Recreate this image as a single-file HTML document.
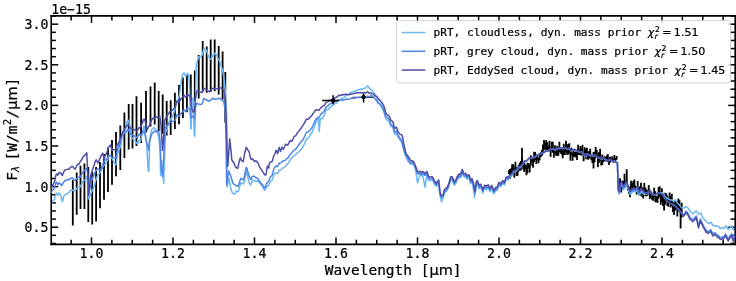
<!DOCTYPE html>
<html><head><meta charset="utf-8"><title>spectrum</title>
<style>html,body{margin:0;padding:0;background:#fff;}body{width:736px;height:281px;overflow:hidden;}svg{display:block;}svg text{stroke:#000;stroke-width:0.22px;}</style>
</head><body>
<svg width="736px" height="281px" viewBox="0 0 736 281" version="1.1">
 
 <defs>
  <style type="text/css">*{stroke-linejoin: round; stroke-linecap: butt}</style>
 </defs>
 <g id="figure_1">
  <g id="patch_1">
   <path d="M 0 281 
L 736 281 
L 736 0 
L 0 0 
z
" style="fill: #ffffff"/>
  </g>
  <g id="axes_1">
   <g id="patch_2">
    <path d="M 51.2 244.4 
L 735.2 244.4 
L 735.2 15.9 
L 51.2 15.9 
z
" style="fill: #ffffff"/>
   </g>
   <g id="line2d_1">
    <path d="M 72.8 180 
L 72.8 225.5 
" clip-path="url(#p9d8dd393e2)" style="fill: none; stroke: #000000; stroke-width: 1.8"/>
   </g>
   <g id="line2d_2">
    <path d="M 76.7 172.5 
L 76.7 214.7 
" clip-path="url(#p9d8dd393e2)" style="fill: none; stroke: #000000; stroke-width: 1.8"/>
   </g>
   <g id="line2d_3">
    <path d="M 80.5 165.7 
L 80.5 209.1 
" clip-path="url(#p9d8dd393e2)" style="fill: none; stroke: #000000; stroke-width: 1.8"/>
   </g>
   <g id="line2d_4">
    <path d="M 84.4 163.5 
L 84.4 209.1 
" clip-path="url(#p9d8dd393e2)" style="fill: none; stroke: #000000; stroke-width: 1.8"/>
   </g>
   <g id="line2d_5">
    <path d="M 88.3 167 
L 88.3 222 
" clip-path="url(#p9d8dd393e2)" style="fill: none; stroke: #000000; stroke-width: 1.8"/>
   </g>
   <g id="line2d_6">
    <path d="M 92.2 172 
L 92.2 224.5 
" clip-path="url(#p9d8dd393e2)" style="fill: none; stroke: #000000; stroke-width: 1.8"/>
   </g>
   <g id="line2d_7">
    <path d="M 96.1 167 
L 96.1 221.5 
" clip-path="url(#p9d8dd393e2)" style="fill: none; stroke: #000000; stroke-width: 1.8"/>
   </g>
   <g id="line2d_8">
    <path d="M 100 162 
L 100 208.3 
" clip-path="url(#p9d8dd393e2)" style="fill: none; stroke: #000000; stroke-width: 1.8"/>
   </g>
   <g id="line2d_9">
    <path d="M 104 154 
L 104 199.7 
" clip-path="url(#p9d8dd393e2)" style="fill: none; stroke: #000000; stroke-width: 1.8"/>
   </g>
   <g id="line2d_10">
    <path d="M 108 147.5 
L 108 192 
" clip-path="url(#p9d8dd393e2)" style="fill: none; stroke: #000000; stroke-width: 1.8"/>
   </g>
   <g id="line2d_11">
    <path d="M 112 140 
L 112 184.8 
" clip-path="url(#p9d8dd393e2)" style="fill: none; stroke: #000000; stroke-width: 1.8"/>
   </g>
   <g id="line2d_12">
    <path d="M 116 132 
L 116 176.2 
" clip-path="url(#p9d8dd393e2)" style="fill: none; stroke: #000000; stroke-width: 1.8"/>
   </g>
   <g id="line2d_13">
    <path d="M 120.3 125.4 
L 120.3 170 
" clip-path="url(#p9d8dd393e2)" style="fill: none; stroke: #000000; stroke-width: 1.8"/>
   </g>
   <g id="line2d_14">
    <path d="M 124.4 112.6 
L 124.4 158 
" clip-path="url(#p9d8dd393e2)" style="fill: none; stroke: #000000; stroke-width: 1.8"/>
   </g>
   <g id="line2d_15">
    <path d="M 128.7 104.1 
L 128.7 149.5 
" clip-path="url(#p9d8dd393e2)" style="fill: none; stroke: #000000; stroke-width: 1.8"/>
   </g>
   <g id="line2d_16">
    <path d="M 132.5 104.1 
L 132.5 148.5 
" clip-path="url(#p9d8dd393e2)" style="fill: none; stroke: #000000; stroke-width: 1.8"/>
   </g>
   <g id="line2d_17">
    <path d="M 136.5 96.3 
L 136.5 146 
" clip-path="url(#p9d8dd393e2)" style="fill: none; stroke: #000000; stroke-width: 1.8"/>
   </g>
   <g id="line2d_18">
    <path d="M 141.1 102.8 
L 141.1 143 
" clip-path="url(#p9d8dd393e2)" style="fill: none; stroke: #000000; stroke-width: 1.8"/>
   </g>
   <g id="line2d_19">
    <path d="M 146 91 
L 146 132.5 
" clip-path="url(#p9d8dd393e2)" style="fill: none; stroke: #000000; stroke-width: 1.8"/>
   </g>
   <g id="line2d_20">
    <path d="M 150.5 86.5 
L 150.5 126.5 
" clip-path="url(#p9d8dd393e2)" style="fill: none; stroke: #000000; stroke-width: 1.8"/>
   </g>
   <g id="line2d_21">
    <path d="M 154.7 82.5 
L 154.7 124.5 
" clip-path="url(#p9d8dd393e2)" style="fill: none; stroke: #000000; stroke-width: 1.8"/>
   </g>
   <g id="line2d_22">
    <path d="M 158.7 91 
L 158.7 131.3 
" clip-path="url(#p9d8dd393e2)" style="fill: none; stroke: #000000; stroke-width: 1.8"/>
   </g>
   <g id="line2d_23">
    <path d="M 162.7 94.5 
L 162.7 133.7 
" clip-path="url(#p9d8dd393e2)" style="fill: none; stroke: #000000; stroke-width: 1.8"/>
   </g>
   <g id="line2d_24">
    <path d="M 166.7 101.1 
L 166.7 135.5 
" clip-path="url(#p9d8dd393e2)" style="fill: none; stroke: #000000; stroke-width: 1.8"/>
   </g>
   <g id="line2d_25">
    <path d="M 170.7 100.3 
L 170.7 135 
" clip-path="url(#p9d8dd393e2)" style="fill: none; stroke: #000000; stroke-width: 1.8"/>
   </g>
   <g id="line2d_26">
    <path d="M 174.9 92.8 
L 174.9 129 
" clip-path="url(#p9d8dd393e2)" style="fill: none; stroke: #000000; stroke-width: 1.8"/>
   </g>
   <g id="line2d_27">
    <path d="M 179 85.1 
L 179 124.2 
" clip-path="url(#p9d8dd393e2)" style="fill: none; stroke: #000000; stroke-width: 1.8"/>
   </g>
   <g id="line2d_28">
    <path d="M 182.9 77.5 
L 182.9 118 
" clip-path="url(#p9d8dd393e2)" style="fill: none; stroke: #000000; stroke-width: 1.8"/>
   </g>
   <g id="line2d_29">
    <path d="M 186.9 74 
L 186.9 112.2 
" clip-path="url(#p9d8dd393e2)" style="fill: none; stroke: #000000; stroke-width: 1.8"/>
   </g>
   <g id="line2d_30">
    <path d="M 190.8 74.5 
L 190.8 107 
" clip-path="url(#p9d8dd393e2)" style="fill: none; stroke: #000000; stroke-width: 1.8"/>
   </g>
   <g id="line2d_31">
    <path d="M 194.8 70.5 
L 194.8 101 
" clip-path="url(#p9d8dd393e2)" style="fill: none; stroke: #000000; stroke-width: 1.8"/>
   </g>
   <g id="line2d_32">
    <path d="M 198.7 55 
L 198.7 98.4 
" clip-path="url(#p9d8dd393e2)" style="fill: none; stroke: #000000; stroke-width: 1.8"/>
   </g>
   <g id="line2d_33">
    <path d="M 202.7 41 
L 202.7 92 
" clip-path="url(#p9d8dd393e2)" style="fill: none; stroke: #000000; stroke-width: 1.8"/>
   </g>
   <g id="line2d_34">
    <path d="M 206.7 46.5 
L 206.7 92.8 
" clip-path="url(#p9d8dd393e2)" style="fill: none; stroke: #000000; stroke-width: 1.8"/>
   </g>
   <g id="line2d_35">
    <path d="M 210.7 39.5 
L 210.7 92 
" clip-path="url(#p9d8dd393e2)" style="fill: none; stroke: #000000; stroke-width: 1.8"/>
   </g>
   <g id="line2d_36">
    <path d="M 214.7 39.5 
L 214.7 91.2 
" clip-path="url(#p9d8dd393e2)" style="fill: none; stroke: #000000; stroke-width: 1.8"/>
   </g>
   <g id="line2d_37">
    <path d="M 218.7 46 
L 218.7 94.4 
" clip-path="url(#p9d8dd393e2)" style="fill: none; stroke: #000000; stroke-width: 1.8"/>
   </g>
   <g id="line2d_38">
    <path d="M 222.6 51.5 
L 222.6 99.5 
" clip-path="url(#p9d8dd393e2)" style="fill: none; stroke: #000000; stroke-width: 1.8"/>
   </g>
   <g id="line2d_39">
    <path d="M 225.3 72 
L 225.3 122.5 
" clip-path="url(#p9d8dd393e2)" style="fill: none; stroke: #000000; stroke-width: 1.8"/>
   </g>
   <g id="line2d_40">
    <path d="M 508.8 172.126631 
L 509.9 173.843945 
L 511 172.614532 
L 512.1 167.704425 
L 513.2 168.092253 
L 514.3 172.796134 
L 515.4 165.024621 
L 516.5 171.865246 
L 517.6 171.341816 
L 518.7 168.105032 
L 519.8 166.297377 
L 520.9 165.649275 
L 522 156.9 
L 523.1 166.321547 
L 524.2 166.476633 
L 525.3 166.575961 
L 526.4 170.417163 
L 527.5 167.995626 
L 528.6 165.729131 
L 529.7 168.594595 
L 530.8 160.546715 
L 531.9 159.368579 
L 533 163.067895 
L 534.1 156.92376 
L 535.2 155.928483 
L 536.3 159.329974 
L 537.4 157.847263 
L 538.5 160.59755 
L 539.6 157.082168 
L 540.7 154.741497 
L 541.8 152.99671 
L 542.9 149.361297 
L 544 145 
L 545.1 145.858022 
L 546.2 146 
L 547.3 146.80608 
L 548.4 148.540544 
L 549.5 145.623083 
L 550.6 152.710537 
L 551.7 146.039984 
L 552.8 147.161846 
L 553.9 152.863272 
L 555 149.348164 
L 556.1 152.269441 
L 557.2 150.857916 
L 558.3 152.153646 
L 559.4 146.844361 
L 560.5 151.020081 
L 561.6 150.732647 
L 562.7 154.166708 
L 563.8 149.335067 
L 564.9 151.65985 
L 566 146.204276 
L 567.1 149.566933 
L 568.2 149.321341 
L 569.3 148.030434 
L 570.4 154.959112 
L 571.5 151.133235 
L 572.6 157.08363 
L 573.7 153.855735 
L 574.8 154.352184 
L 575.9 154.610426 
L 577 154.840875 
L 578.1 149.910226 
L 579.2 152.418483 
L 580.3 150.369087 
L 581.4 151.830774 
L 582.5 149.044974 
L 583.6 156.994601 
L 584.7 150.30994 
L 585.8 154.278713 
L 586.9 151.186873 
L 588 155.845609 
L 589.1 154.966005 
L 590.2 151.442441 
L 591.3 158.111633 
L 592.4 159.778634 
L 593.5 160.25 
L 594.6 157.021426 
L 595.7 152.429898 
L 596.8 153.10059 
L 597.9 161.063386 
L 599 157.431893 
L 600.1 154.149732 
L 601.2 161.367399 
L 602.3 159.64937 
L 603.4 159.555948 
L 604.5 158.436946 
L 605.6 159.335043 
L 606.7 158.140488 
L 607.8 156.650316 
L 608.9 162.781768 
L 610 159.798982 
L 611.1 160.2309 
L 612.2 158.839632 
L 613.3 161.191268 
L 614.4 157.509056 
L 615.5 159.516643 
L 616.6 157.946487 
" clip-path="url(#p9d8dd393e2)" style="fill: none; stroke: #000000; stroke-linecap: square"/>
   </g>
   <g id="LineCollection_1">
    <path d="M 508.8 170.184605 
L 508.8 174.068656 
" clip-path="url(#p9d8dd393e2)" style="fill: none; stroke: #000000; stroke-width: 1.8"/>
    <path d="M 509.9 168.931415 
L 509.9 178.756475 
" clip-path="url(#p9d8dd393e2)" style="fill: none; stroke: #000000; stroke-width: 1.8"/>
    <path d="M 511 168.514094 
L 511 176.714969 
" clip-path="url(#p9d8dd393e2)" style="fill: none; stroke: #000000; stroke-width: 1.8"/>
    <path d="M 512.1 164.272379 
L 512.1 171.136471 
" clip-path="url(#p9d8dd393e2)" style="fill: none; stroke: #000000; stroke-width: 1.8"/>
    <path d="M 513.2 164.342714 
L 513.2 171.841793 
" clip-path="url(#p9d8dd393e2)" style="fill: none; stroke: #000000; stroke-width: 1.8"/>
    <path d="M 514.3 167.942445 
L 514.3 177.649823 
" clip-path="url(#p9d8dd393e2)" style="fill: none; stroke: #000000; stroke-width: 1.8"/>
    <path d="M 515.4 161.779214 
L 515.4 168.270028 
" clip-path="url(#p9d8dd393e2)" style="fill: none; stroke: #000000; stroke-width: 1.8"/>
    <path d="M 516.5 167.826635 
L 516.5 175.903857 
" clip-path="url(#p9d8dd393e2)" style="fill: none; stroke: #000000; stroke-width: 1.8"/>
    <path d="M 517.6 166.980443 
L 517.6 175.703189 
" clip-path="url(#p9d8dd393e2)" style="fill: none; stroke: #000000; stroke-width: 1.8"/>
    <path d="M 518.7 164.755148 
L 518.7 171.454915 
" clip-path="url(#p9d8dd393e2)" style="fill: none; stroke: #000000; stroke-width: 1.8"/>
    <path d="M 519.8 162.401138 
L 519.8 170.193615 
" clip-path="url(#p9d8dd393e2)" style="fill: none; stroke: #000000; stroke-width: 1.8"/>
    <path d="M 520.9 160.894547 
L 520.9 170.404003 
" clip-path="url(#p9d8dd393e2)" style="fill: none; stroke: #000000; stroke-width: 1.8"/>
    <path d="M 522 147.8 
L 522 166 
" clip-path="url(#p9d8dd393e2)" style="fill: none; stroke: #000000; stroke-width: 1.8"/>
    <path d="M 523.1 163.466233 
L 523.1 169.176861 
" clip-path="url(#p9d8dd393e2)" style="fill: none; stroke: #000000; stroke-width: 1.8"/>
    <path d="M 524.2 160.923007 
L 524.2 172.030259 
" clip-path="url(#p9d8dd393e2)" style="fill: none; stroke: #000000; stroke-width: 1.8"/>
    <path d="M 525.3 164.178353 
L 525.3 168.97357 
" clip-path="url(#p9d8dd393e2)" style="fill: none; stroke: #000000; stroke-width: 1.8"/>
    <path d="M 526.4 165.477039 
L 526.4 175.357286 
" clip-path="url(#p9d8dd393e2)" style="fill: none; stroke: #000000; stroke-width: 1.8"/>
    <path d="M 527.5 162.855519 
L 527.5 173.135733 
" clip-path="url(#p9d8dd393e2)" style="fill: none; stroke: #000000; stroke-width: 1.8"/>
    <path d="M 528.6 162.876483 
L 528.6 168.581779 
" clip-path="url(#p9d8dd393e2)" style="fill: none; stroke: #000000; stroke-width: 1.8"/>
    <path d="M 529.7 164.77306 
L 529.7 172.416131 
" clip-path="url(#p9d8dd393e2)" style="fill: none; stroke: #000000; stroke-width: 1.8"/>
    <path d="M 530.8 155.361941 
L 530.8 165.731489 
" clip-path="url(#p9d8dd393e2)" style="fill: none; stroke: #000000; stroke-width: 1.8"/>
    <path d="M 531.9 156.920058 
L 531.9 161.817101 
" clip-path="url(#p9d8dd393e2)" style="fill: none; stroke: #000000; stroke-width: 1.8"/>
    <path d="M 533 158.505577 
L 533 167.630213 
" clip-path="url(#p9d8dd393e2)" style="fill: none; stroke: #000000; stroke-width: 1.8"/>
    <path d="M 534.1 151.802191 
L 534.1 162.045329 
" clip-path="url(#p9d8dd393e2)" style="fill: none; stroke: #000000; stroke-width: 1.8"/>
    <path d="M 535.2 151.89646 
L 535.2 159.960507 
" clip-path="url(#p9d8dd393e2)" style="fill: none; stroke: #000000; stroke-width: 1.8"/>
    <path d="M 536.3 154.742066 
L 536.3 163.917882 
" clip-path="url(#p9d8dd393e2)" style="fill: none; stroke: #000000; stroke-width: 1.8"/>
    <path d="M 537.4 154.96485 
L 537.4 160.729675 
" clip-path="url(#p9d8dd393e2)" style="fill: none; stroke: #000000; stroke-width: 1.8"/>
    <path d="M 538.5 157.897494 
L 538.5 163.297606 
" clip-path="url(#p9d8dd393e2)" style="fill: none; stroke: #000000; stroke-width: 1.8"/>
    <path d="M 539.6 154.000517 
L 539.6 160.163819 
" clip-path="url(#p9d8dd393e2)" style="fill: none; stroke: #000000; stroke-width: 1.8"/>
    <path d="M 540.7 152.216546 
L 540.7 157.266447 
" clip-path="url(#p9d8dd393e2)" style="fill: none; stroke: #000000; stroke-width: 1.8"/>
    <path d="M 541.8 149.974848 
L 541.8 156.018573 
" clip-path="url(#p9d8dd393e2)" style="fill: none; stroke: #000000; stroke-width: 1.8"/>
    <path d="M 542.9 144.571189 
L 542.9 154.151404 
" clip-path="url(#p9d8dd393e2)" style="fill: none; stroke: #000000; stroke-width: 1.8"/>
    <path d="M 544 140 
L 544 150 
" clip-path="url(#p9d8dd393e2)" style="fill: none; stroke: #000000; stroke-width: 1.8"/>
    <path d="M 545.1 142.806462 
L 545.1 148.909582 
" clip-path="url(#p9d8dd393e2)" style="fill: none; stroke: #000000; stroke-width: 1.8"/>
    <path d="M 546.2 140 
L 546.2 152 
" clip-path="url(#p9d8dd393e2)" style="fill: none; stroke: #000000; stroke-width: 1.8"/>
    <path d="M 547.3 142.177065 
L 547.3 151.435095 
" clip-path="url(#p9d8dd393e2)" style="fill: none; stroke: #000000; stroke-width: 1.8"/>
    <path d="M 548.4 145.409251 
L 548.4 151.671836 
" clip-path="url(#p9d8dd393e2)" style="fill: none; stroke: #000000; stroke-width: 1.8"/>
    <path d="M 549.5 140.707929 
L 549.5 150.538238 
" clip-path="url(#p9d8dd393e2)" style="fill: none; stroke: #000000; stroke-width: 1.8"/>
    <path d="M 550.6 148.55345 
L 550.6 156.867625 
" clip-path="url(#p9d8dd393e2)" style="fill: none; stroke: #000000; stroke-width: 1.8"/>
    <path d="M 551.7 141.725849 
L 551.7 150.35412 
" clip-path="url(#p9d8dd393e2)" style="fill: none; stroke: #000000; stroke-width: 1.8"/>
    <path d="M 552.8 141.690182 
L 552.8 152.633509 
" clip-path="url(#p9d8dd393e2)" style="fill: none; stroke: #000000; stroke-width: 1.8"/>
    <path d="M 553.9 148.070975 
L 553.9 157.655568 
" clip-path="url(#p9d8dd393e2)" style="fill: none; stroke: #000000; stroke-width: 1.8"/>
    <path d="M 555 145.229585 
L 555 153.466744 
" clip-path="url(#p9d8dd393e2)" style="fill: none; stroke: #000000; stroke-width: 1.8"/>
    <path d="M 556.1 148.753731 
L 556.1 155.78515 
" clip-path="url(#p9d8dd393e2)" style="fill: none; stroke: #000000; stroke-width: 1.8"/>
    <path d="M 557.2 145.924501 
L 557.2 155.791332 
" clip-path="url(#p9d8dd393e2)" style="fill: none; stroke: #000000; stroke-width: 1.8"/>
    <path d="M 558.3 148.672526 
L 558.3 155.634766 
" clip-path="url(#p9d8dd393e2)" style="fill: none; stroke: #000000; stroke-width: 1.8"/>
    <path d="M 559.4 141.753764 
L 559.4 151.934958 
" clip-path="url(#p9d8dd393e2)" style="fill: none; stroke: #000000; stroke-width: 1.8"/>
    <path d="M 560.5 148.574468 
L 560.5 153.465694 
" clip-path="url(#p9d8dd393e2)" style="fill: none; stroke: #000000; stroke-width: 1.8"/>
    <path d="M 561.6 147.034652 
L 561.6 154.430643 
" clip-path="url(#p9d8dd393e2)" style="fill: none; stroke: #000000; stroke-width: 1.8"/>
    <path d="M 562.7 150.064609 
L 562.7 158.268808 
" clip-path="url(#p9d8dd393e2)" style="fill: none; stroke: #000000; stroke-width: 1.8"/>
    <path d="M 563.8 143.631311 
L 563.8 155.038822 
" clip-path="url(#p9d8dd393e2)" style="fill: none; stroke: #000000; stroke-width: 1.8"/>
    <path d="M 564.9 148.287607 
L 564.9 155.032093 
" clip-path="url(#p9d8dd393e2)" style="fill: none; stroke: #000000; stroke-width: 1.8"/>
    <path d="M 566 140.726596 
L 566 151.681955 
" clip-path="url(#p9d8dd393e2)" style="fill: none; stroke: #000000; stroke-width: 1.8"/>
    <path d="M 567.1 144.456783 
L 567.1 154.677082 
" clip-path="url(#p9d8dd393e2)" style="fill: none; stroke: #000000; stroke-width: 1.8"/>
    <path d="M 568.2 144.17732 
L 568.2 154.465363 
" clip-path="url(#p9d8dd393e2)" style="fill: none; stroke: #000000; stroke-width: 1.8"/>
    <path d="M 569.3 143.313599 
L 569.3 152.747269 
" clip-path="url(#p9d8dd393e2)" style="fill: none; stroke: #000000; stroke-width: 1.8"/>
    <path d="M 570.4 149.167154 
L 570.4 160.75107 
" clip-path="url(#p9d8dd393e2)" style="fill: none; stroke: #000000; stroke-width: 1.8"/>
    <path d="M 571.5 147.64019 
L 571.5 154.62628 
" clip-path="url(#p9d8dd393e2)" style="fill: none; stroke: #000000; stroke-width: 1.8"/>
    <path d="M 572.6 153.459321 
L 572.6 160.70794 
" clip-path="url(#p9d8dd393e2)" style="fill: none; stroke: #000000; stroke-width: 1.8"/>
    <path d="M 573.7 150.950617 
L 573.7 156.760854 
" clip-path="url(#p9d8dd393e2)" style="fill: none; stroke: #000000; stroke-width: 1.8"/>
    <path d="M 574.8 151.998727 
L 574.8 156.705641 
" clip-path="url(#p9d8dd393e2)" style="fill: none; stroke: #000000; stroke-width: 1.8"/>
    <path d="M 575.9 151.721071 
L 575.9 157.49978 
" clip-path="url(#p9d8dd393e2)" style="fill: none; stroke: #000000; stroke-width: 1.8"/>
    <path d="M 577 149.63908 
L 577 160.042671 
" clip-path="url(#p9d8dd393e2)" style="fill: none; stroke: #000000; stroke-width: 1.8"/>
    <path d="M 578.1 144.866173 
L 578.1 154.954279 
" clip-path="url(#p9d8dd393e2)" style="fill: none; stroke: #000000; stroke-width: 1.8"/>
    <path d="M 579.2 149.713172 
L 579.2 155.123794 
" clip-path="url(#p9d8dd393e2)" style="fill: none; stroke: #000000; stroke-width: 1.8"/>
    <path d="M 580.3 145.955795 
L 580.3 154.782379 
" clip-path="url(#p9d8dd393e2)" style="fill: none; stroke: #000000; stroke-width: 1.8"/>
    <path d="M 581.4 147.835656 
L 581.4 155.825892 
" clip-path="url(#p9d8dd393e2)" style="fill: none; stroke: #000000; stroke-width: 1.8"/>
    <path d="M 582.5 144.772514 
L 582.5 153.317434 
" clip-path="url(#p9d8dd393e2)" style="fill: none; stroke: #000000; stroke-width: 1.8"/>
    <path d="M 583.6 152.62861 
L 583.6 161.360593 
" clip-path="url(#p9d8dd393e2)" style="fill: none; stroke: #000000; stroke-width: 1.8"/>
    <path d="M 584.7 147.165136 
L 584.7 153.454745 
" clip-path="url(#p9d8dd393e2)" style="fill: none; stroke: #000000; stroke-width: 1.8"/>
    <path d="M 585.8 149.234852 
L 585.8 159.322574 
" clip-path="url(#p9d8dd393e2)" style="fill: none; stroke: #000000; stroke-width: 1.8"/>
    <path d="M 586.9 147.749977 
L 586.9 154.62377 
" clip-path="url(#p9d8dd393e2)" style="fill: none; stroke: #000000; stroke-width: 1.8"/>
    <path d="M 588 152.04724 
L 588 159.643977 
" clip-path="url(#p9d8dd393e2)" style="fill: none; stroke: #000000; stroke-width: 1.8"/>
    <path d="M 589.1 151.106133 
L 589.1 158.825877 
" clip-path="url(#p9d8dd393e2)" style="fill: none; stroke: #000000; stroke-width: 1.8"/>
    <path d="M 590.2 148.860069 
L 590.2 154.024812 
" clip-path="url(#p9d8dd393e2)" style="fill: none; stroke: #000000; stroke-width: 1.8"/>
    <path d="M 591.3 155.862301 
L 591.3 160.360964 
" clip-path="url(#p9d8dd393e2)" style="fill: none; stroke: #000000; stroke-width: 1.8"/>
    <path d="M 592.4 156.462757 
L 592.4 163.094511 
" clip-path="url(#p9d8dd393e2)" style="fill: none; stroke: #000000; stroke-width: 1.8"/>
    <path d="M 593.5 152 
L 593.5 168.5 
" clip-path="url(#p9d8dd393e2)" style="fill: none; stroke: #000000; stroke-width: 1.8"/>
    <path d="M 594.6 151.732291 
L 594.6 162.31056 
" clip-path="url(#p9d8dd393e2)" style="fill: none; stroke: #000000; stroke-width: 1.8"/>
    <path d="M 595.7 146.955899 
L 595.7 157.903897 
" clip-path="url(#p9d8dd393e2)" style="fill: none; stroke: #000000; stroke-width: 1.8"/>
    <path d="M 596.8 149.994147 
L 596.8 156.207032 
" clip-path="url(#p9d8dd393e2)" style="fill: none; stroke: #000000; stroke-width: 1.8"/>
    <path d="M 597.9 155.122206 
L 597.9 167.004565 
" clip-path="url(#p9d8dd393e2)" style="fill: none; stroke: #000000; stroke-width: 1.8"/>
    <path d="M 599 152.107173 
L 599 162.756612 
" clip-path="url(#p9d8dd393e2)" style="fill: none; stroke: #000000; stroke-width: 1.8"/>
    <path d="M 600.1 148.765071 
L 600.1 159.534393 
" clip-path="url(#p9d8dd393e2)" style="fill: none; stroke: #000000; stroke-width: 1.8"/>
    <path d="M 601.2 157.286456 
L 601.2 165.448341 
" clip-path="url(#p9d8dd393e2)" style="fill: none; stroke: #000000; stroke-width: 1.8"/>
    <path d="M 602.3 154.384014 
L 602.3 164.914726 
" clip-path="url(#p9d8dd393e2)" style="fill: none; stroke: #000000; stroke-width: 1.8"/>
    <path d="M 603.4 157.180101 
L 603.4 161.931796 
" clip-path="url(#p9d8dd393e2)" style="fill: none; stroke: #000000; stroke-width: 1.8"/>
    <path d="M 604.5 156.1694 
L 604.5 160.704493 
" clip-path="url(#p9d8dd393e2)" style="fill: none; stroke: #000000; stroke-width: 1.8"/>
    <path d="M 605.6 157.154231 
L 605.6 161.515856 
" clip-path="url(#p9d8dd393e2)" style="fill: none; stroke: #000000; stroke-width: 1.8"/>
    <path d="M 606.7 155.385081 
L 606.7 160.895895 
" clip-path="url(#p9d8dd393e2)" style="fill: none; stroke: #000000; stroke-width: 1.8"/>
    <path d="M 607.8 154.068038 
L 607.8 159.232594 
" clip-path="url(#p9d8dd393e2)" style="fill: none; stroke: #000000; stroke-width: 1.8"/>
    <path d="M 608.9 160.516353 
L 608.9 165.047184 
" clip-path="url(#p9d8dd393e2)" style="fill: none; stroke: #000000; stroke-width: 1.8"/>
    <path d="M 610 156.779769 
L 610 162.818195 
" clip-path="url(#p9d8dd393e2)" style="fill: none; stroke: #000000; stroke-width: 1.8"/>
    <path d="M 611.1 158.595419 
L 611.1 161.866381 
" clip-path="url(#p9d8dd393e2)" style="fill: none; stroke: #000000; stroke-width: 1.8"/>
    <path d="M 612.2 156.202817 
L 612.2 161.476448 
" clip-path="url(#p9d8dd393e2)" style="fill: none; stroke: #000000; stroke-width: 1.8"/>
    <path d="M 613.3 159.535304 
L 613.3 162.847232 
" clip-path="url(#p9d8dd393e2)" style="fill: none; stroke: #000000; stroke-width: 1.8"/>
    <path d="M 614.4 154.91386 
L 614.4 160.104251 
" clip-path="url(#p9d8dd393e2)" style="fill: none; stroke: #000000; stroke-width: 1.8"/>
    <path d="M 615.5 158.179205 
L 615.5 160.854081 
" clip-path="url(#p9d8dd393e2)" style="fill: none; stroke: #000000; stroke-width: 1.8"/>
    <path d="M 616.6 156.101098 
L 616.6 159.791876 
" clip-path="url(#p9d8dd393e2)" style="fill: none; stroke: #000000; stroke-width: 1.8"/>
   </g>
   <g id="line2d_41">
    <path d="M 619 188.909422 
L 620.1 184.166866 
L 621.2 187.131717 
L 622.3 185.090908 
L 623.4 184.383439 
L 624.5 179.707918 
L 625.6 184.106145 
L 626.7 177.65 
L 627.8 187.705178 
L 628.9 191.046542 
L 630 191.870166 
L 631.1 184.002756 
L 632.2 186.524044 
L 633.3 186.10739 
L 634.4 183.933066 
L 635.5 188.805345 
L 636.6 190.651802 
L 637.7 186.266628 
L 638.8 191.713944 
L 639.9 191.308648 
L 641 185.51093 
L 642.1 192.027734 
L 643.2 193.605418 
L 644.3 187.913919 
L 645.4 191.819825 
L 646.5 192.8432 
L 647.6 193.019635 
L 648.7 188.862361 
L 649.8 194.364275 
L 650.9 194.465615 
L 652 196.574564 
L 653.1 196.754853 
L 654.2 192.630127 
L 655.3 196.786273 
L 656.4 198.869208 
L 657.5 199.820939 
L 658.6 192.668163 
L 659.7 191.596775 
L 660.8 199.169043 
L 661.9 194.944374 
L 663 199.513549 
L 664.1 204.441811 
L 665.2 198.751083 
L 666.3 197.917071 
L 667.4 200.724603 
L 668.5 203.449492 
L 669.6 198.037822 
L 670.7 201.765944 
L 671.8 199.733584 
L 672.9 206.908907 
L 674 210.09085 
L 675.1 205.088019 
L 676.2 205.818408 
L 677.3 208.816432 
L 678.4 204.846982 
L 679.5 205.922888 
L 680.6 216.8 
L 681.7 210.20631 
" clip-path="url(#p9d8dd393e2)" style="fill: none; stroke: #000000; stroke-linecap: square"/>
   </g>
   <g id="LineCollection_2">
    <path d="M 619 185.783297 
L 619 192.035548 
" clip-path="url(#p9d8dd393e2)" style="fill: none; stroke: #000000; stroke-width: 1.8"/>
    <path d="M 620.1 178.196136 
L 620.1 190.137595 
" clip-path="url(#p9d8dd393e2)" style="fill: none; stroke: #000000; stroke-width: 1.8"/>
    <path d="M 621.2 181.734106 
L 621.2 192.529327 
" clip-path="url(#p9d8dd393e2)" style="fill: none; stroke: #000000; stroke-width: 1.8"/>
    <path d="M 622.3 180.762234 
L 622.3 189.419583 
" clip-path="url(#p9d8dd393e2)" style="fill: none; stroke: #000000; stroke-width: 1.8"/>
    <path d="M 623.4 181.039989 
L 623.4 187.72689 
" clip-path="url(#p9d8dd393e2)" style="fill: none; stroke: #000000; stroke-width: 1.8"/>
    <path d="M 624.5 173.818614 
L 624.5 185.597221 
" clip-path="url(#p9d8dd393e2)" style="fill: none; stroke: #000000; stroke-width: 1.8"/>
    <path d="M 625.6 180.989599 
L 625.6 187.222691 
" clip-path="url(#p9d8dd393e2)" style="fill: none; stroke: #000000; stroke-width: 1.8"/>
    <path d="M 626.7 169.3 
L 626.7 186 
" clip-path="url(#p9d8dd393e2)" style="fill: none; stroke: #000000; stroke-width: 1.8"/>
    <path d="M 627.8 184.880852 
L 627.8 190.529505 
" clip-path="url(#p9d8dd393e2)" style="fill: none; stroke: #000000; stroke-width: 1.8"/>
    <path d="M 628.9 188.39025 
L 628.9 193.702834 
" clip-path="url(#p9d8dd393e2)" style="fill: none; stroke: #000000; stroke-width: 1.8"/>
    <path d="M 630 186.408432 
L 630 197.3319 
" clip-path="url(#p9d8dd393e2)" style="fill: none; stroke: #000000; stroke-width: 1.8"/>
    <path d="M 631.1 180.707325 
L 631.1 187.298186 
" clip-path="url(#p9d8dd393e2)" style="fill: none; stroke: #000000; stroke-width: 1.8"/>
    <path d="M 632.2 183.102248 
L 632.2 189.94584 
" clip-path="url(#p9d8dd393e2)" style="fill: none; stroke: #000000; stroke-width: 1.8"/>
    <path d="M 633.3 180.89589 
L 633.3 191.318891 
" clip-path="url(#p9d8dd393e2)" style="fill: none; stroke: #000000; stroke-width: 1.8"/>
    <path d="M 634.4 179.445326 
L 634.4 188.420806 
" clip-path="url(#p9d8dd393e2)" style="fill: none; stroke: #000000; stroke-width: 1.8"/>
    <path d="M 635.5 185.789057 
L 635.5 191.821632 
" clip-path="url(#p9d8dd393e2)" style="fill: none; stroke: #000000; stroke-width: 1.8"/>
    <path d="M 636.6 186.793436 
L 636.6 194.510167 
" clip-path="url(#p9d8dd393e2)" style="fill: none; stroke: #000000; stroke-width: 1.8"/>
    <path d="M 637.7 180.881292 
L 637.7 191.651965 
" clip-path="url(#p9d8dd393e2)" style="fill: none; stroke: #000000; stroke-width: 1.8"/>
    <path d="M 638.8 188.057672 
L 638.8 195.370216 
" clip-path="url(#p9d8dd393e2)" style="fill: none; stroke: #000000; stroke-width: 1.8"/>
    <path d="M 639.9 186.511651 
L 639.9 196.105645 
" clip-path="url(#p9d8dd393e2)" style="fill: none; stroke: #000000; stroke-width: 1.8"/>
    <path d="M 641 182.833656 
L 641 188.188204 
" clip-path="url(#p9d8dd393e2)" style="fill: none; stroke: #000000; stroke-width: 1.8"/>
    <path d="M 642.1 187.294725 
L 642.1 196.760743 
" clip-path="url(#p9d8dd393e2)" style="fill: none; stroke: #000000; stroke-width: 1.8"/>
    <path d="M 643.2 188.774397 
L 643.2 198.436439 
" clip-path="url(#p9d8dd393e2)" style="fill: none; stroke: #000000; stroke-width: 1.8"/>
    <path d="M 644.3 182.988744 
L 644.3 192.839094 
" clip-path="url(#p9d8dd393e2)" style="fill: none; stroke: #000000; stroke-width: 1.8"/>
    <path d="M 645.4 187.422382 
L 645.4 196.217268 
" clip-path="url(#p9d8dd393e2)" style="fill: none; stroke: #000000; stroke-width: 1.8"/>
    <path d="M 646.5 189.416855 
L 646.5 196.269545 
" clip-path="url(#p9d8dd393e2)" style="fill: none; stroke: #000000; stroke-width: 1.8"/>
    <path d="M 647.6 190.574157 
L 647.6 195.465113 
" clip-path="url(#p9d8dd393e2)" style="fill: none; stroke: #000000; stroke-width: 1.8"/>
    <path d="M 648.7 184.962277 
L 648.7 192.762445 
" clip-path="url(#p9d8dd393e2)" style="fill: none; stroke: #000000; stroke-width: 1.8"/>
    <path d="M 649.8 189.700404 
L 649.8 199.028147 
" clip-path="url(#p9d8dd393e2)" style="fill: none; stroke: #000000; stroke-width: 1.8"/>
    <path d="M 650.9 191.582863 
L 650.9 197.348368 
" clip-path="url(#p9d8dd393e2)" style="fill: none; stroke: #000000; stroke-width: 1.8"/>
    <path d="M 652 193.405306 
L 652 199.743822 
" clip-path="url(#p9d8dd393e2)" style="fill: none; stroke: #000000; stroke-width: 1.8"/>
    <path d="M 653.1 192.64599 
L 653.1 200.863716 
" clip-path="url(#p9d8dd393e2)" style="fill: none; stroke: #000000; stroke-width: 1.8"/>
    <path d="M 654.2 187.752146 
L 654.2 197.508108 
" clip-path="url(#p9d8dd393e2)" style="fill: none; stroke: #000000; stroke-width: 1.8"/>
    <path d="M 655.3 191.300401 
L 655.3 202.272145 
" clip-path="url(#p9d8dd393e2)" style="fill: none; stroke: #000000; stroke-width: 1.8"/>
    <path d="M 656.4 195.922962 
L 656.4 201.815454 
" clip-path="url(#p9d8dd393e2)" style="fill: none; stroke: #000000; stroke-width: 1.8"/>
    <path d="M 657.5 196.549139 
L 657.5 203.092739 
" clip-path="url(#p9d8dd393e2)" style="fill: none; stroke: #000000; stroke-width: 1.8"/>
    <path d="M 658.6 186.921937 
L 658.6 198.414388 
" clip-path="url(#p9d8dd393e2)" style="fill: none; stroke: #000000; stroke-width: 1.8"/>
    <path d="M 659.7 186.267091 
L 659.7 196.926458 
" clip-path="url(#p9d8dd393e2)" style="fill: none; stroke: #000000; stroke-width: 1.8"/>
    <path d="M 660.8 193.485152 
L 660.8 204.852935 
" clip-path="url(#p9d8dd393e2)" style="fill: none; stroke: #000000; stroke-width: 1.8"/>
    <path d="M 661.9 188.15729 
L 661.9 201.731459 
" clip-path="url(#p9d8dd393e2)" style="fill: none; stroke: #000000; stroke-width: 1.8"/>
    <path d="M 663 192.956829 
L 663 206.070269 
" clip-path="url(#p9d8dd393e2)" style="fill: none; stroke: #000000; stroke-width: 1.8"/>
    <path d="M 664.1 198.26971 
L 664.1 210.613911 
" clip-path="url(#p9d8dd393e2)" style="fill: none; stroke: #000000; stroke-width: 1.8"/>
    <path d="M 665.2 192.854437 
L 665.2 204.647729 
" clip-path="url(#p9d8dd393e2)" style="fill: none; stroke: #000000; stroke-width: 1.8"/>
    <path d="M 666.3 193.593935 
L 666.3 202.240207 
" clip-path="url(#p9d8dd393e2)" style="fill: none; stroke: #000000; stroke-width: 1.8"/>
    <path d="M 667.4 195.488444 
L 667.4 205.960761 
" clip-path="url(#p9d8dd393e2)" style="fill: none; stroke: #000000; stroke-width: 1.8"/>
    <path d="M 668.5 200.035532 
L 668.5 206.863452 
" clip-path="url(#p9d8dd393e2)" style="fill: none; stroke: #000000; stroke-width: 1.8"/>
    <path d="M 669.6 192.468391 
L 669.6 203.607253 
" clip-path="url(#p9d8dd393e2)" style="fill: none; stroke: #000000; stroke-width: 1.8"/>
    <path d="M 670.7 196.022643 
L 670.7 207.509246 
" clip-path="url(#p9d8dd393e2)" style="fill: none; stroke: #000000; stroke-width: 1.8"/>
    <path d="M 671.8 193.820996 
L 671.8 205.646172 
" clip-path="url(#p9d8dd393e2)" style="fill: none; stroke: #000000; stroke-width: 1.8"/>
    <path d="M 672.9 201.894687 
L 672.9 211.923127 
" clip-path="url(#p9d8dd393e2)" style="fill: none; stroke: #000000; stroke-width: 1.8"/>
    <path d="M 674 205.13122 
L 674 215.050479 
" clip-path="url(#p9d8dd393e2)" style="fill: none; stroke: #000000; stroke-width: 1.8"/>
    <path d="M 675.1 199.690723 
L 675.1 210.485315 
" clip-path="url(#p9d8dd393e2)" style="fill: none; stroke: #000000; stroke-width: 1.8"/>
    <path d="M 676.2 202.146822 
L 676.2 209.489993 
" clip-path="url(#p9d8dd393e2)" style="fill: none; stroke: #000000; stroke-width: 1.8"/>
    <path d="M 677.3 201.027911 
L 677.3 216.604953 
" clip-path="url(#p9d8dd393e2)" style="fill: none; stroke: #000000; stroke-width: 1.8"/>
    <path d="M 678.4 198.535743 
L 678.4 211.158221 
" clip-path="url(#p9d8dd393e2)" style="fill: none; stroke: #000000; stroke-width: 1.8"/>
    <path d="M 679.5 200.358418 
L 679.5 211.487358 
" clip-path="url(#p9d8dd393e2)" style="fill: none; stroke: #000000; stroke-width: 1.8"/>
    <path d="M 680.6 205 
L 680.6 228.6 
" clip-path="url(#p9d8dd393e2)" style="fill: none; stroke: #000000; stroke-width: 1.8"/>
    <path d="M 681.7 202.827998 
L 681.7 217.584623 
" clip-path="url(#p9d8dd393e2)" style="fill: none; stroke: #000000; stroke-width: 1.8"/>
   </g>
   <g id="line2d_42">
    <path d="M 353 97.3 
L 374 97.3 
" clip-path="url(#p9d8dd393e2)" style="fill: none; stroke: #000000; stroke-linecap: square"/>
   </g>
   <g id="matplotlib.axis_1">
    <g id="xtick_1">
     <g id="line2d_43">
      <defs>
       <path id="m94fa1543ef" d="M 0 0 
L 0 -7 
" style="stroke: #000000; stroke-width: 1.5"/>
      </defs>
      <g>
       <use href="#m94fa1543ef" x="91.5" y="244.4" style="stroke: #000000; stroke-width: 1.5"/>
      </g>
     </g>
     <g id="line2d_44">
      <defs>
       <path id="m89f2c88136" d="M 0 0 
L 0 7 
" style="stroke: #000000; stroke-width: 1.5"/>
      </defs>
      <g>
       <use href="#m89f2c88136" x="91.5" y="15.9" style="stroke: #000000; stroke-width: 1.5"/>
      </g>
     </g>
     <g id="text_1">
      <text style="font-size: 13.2px; font-family: 'DejaVu Sans Mono'; text-anchor: middle" x="91.5" y="258.000063" transform="rotate(-0 91.5 258.000063)">1.0</text>
     </g>
    </g>
    <g id="xtick_2">
     <g id="line2d_45">
      <g>
       <use href="#m94fa1543ef" x="173" y="244.4" style="stroke: #000000; stroke-width: 1.5"/>
      </g>
     </g>
     <g id="line2d_46">
      <g>
       <use href="#m89f2c88136" x="173" y="15.9" style="stroke: #000000; stroke-width: 1.5"/>
      </g>
     </g>
     <g id="text_2">
      <text style="font-size: 13.2px; font-family: 'DejaVu Sans Mono'; text-anchor: middle" x="173" y="258.000063" transform="rotate(-0 173 258.000063)">1.2</text>
     </g>
    </g>
    <g id="xtick_3">
     <g id="line2d_47">
      <g>
       <use href="#m94fa1543ef" x="254.5" y="244.4" style="stroke: #000000; stroke-width: 1.5"/>
      </g>
     </g>
     <g id="line2d_48">
      <g>
       <use href="#m89f2c88136" x="254.5" y="15.9" style="stroke: #000000; stroke-width: 1.5"/>
      </g>
     </g>
     <g id="text_3">
      <text style="font-size: 13.2px; font-family: 'DejaVu Sans Mono'; text-anchor: middle" x="254.5" y="258.000063" transform="rotate(-0 254.5 258.000063)">1.4</text>
     </g>
    </g>
    <g id="xtick_4">
     <g id="line2d_49">
      <g>
       <use href="#m94fa1543ef" x="336" y="244.4" style="stroke: #000000; stroke-width: 1.5"/>
      </g>
     </g>
     <g id="line2d_50">
      <g>
       <use href="#m89f2c88136" x="336" y="15.9" style="stroke: #000000; stroke-width: 1.5"/>
      </g>
     </g>
     <g id="text_4">
      <text style="font-size: 13.2px; font-family: 'DejaVu Sans Mono'; text-anchor: middle" x="336" y="258.000063" transform="rotate(-0 336 258.000063)">1.6</text>
     </g>
    </g>
    <g id="xtick_5">
     <g id="line2d_51">
      <g>
       <use href="#m94fa1543ef" x="417.5" y="244.4" style="stroke: #000000; stroke-width: 1.5"/>
      </g>
     </g>
     <g id="line2d_52">
      <g>
       <use href="#m89f2c88136" x="417.5" y="15.9" style="stroke: #000000; stroke-width: 1.5"/>
      </g>
     </g>
     <g id="text_5">
      <text style="font-size: 13.2px; font-family: 'DejaVu Sans Mono'; text-anchor: middle" x="417.5" y="258.000063" transform="rotate(-0 417.5 258.000063)">1.8</text>
     </g>
    </g>
    <g id="xtick_6">
     <g id="line2d_53">
      <g>
       <use href="#m94fa1543ef" x="499" y="244.4" style="stroke: #000000; stroke-width: 1.5"/>
      </g>
     </g>
     <g id="line2d_54">
      <g>
       <use href="#m89f2c88136" x="499" y="15.9" style="stroke: #000000; stroke-width: 1.5"/>
      </g>
     </g>
     <g id="text_6">
      <text style="font-size: 13.2px; font-family: 'DejaVu Sans Mono'; text-anchor: middle" x="499" y="258.000063" transform="rotate(-0 499 258.000063)">2.0</text>
     </g>
    </g>
    <g id="xtick_7">
     <g id="line2d_55">
      <g>
       <use href="#m94fa1543ef" x="580.5" y="244.4" style="stroke: #000000; stroke-width: 1.5"/>
      </g>
     </g>
     <g id="line2d_56">
      <g>
       <use href="#m89f2c88136" x="580.5" y="15.9" style="stroke: #000000; stroke-width: 1.5"/>
      </g>
     </g>
     <g id="text_7">
      <text style="font-size: 13.2px; font-family: 'DejaVu Sans Mono'; text-anchor: middle" x="580.5" y="258.000063" transform="rotate(-0 580.5 258.000063)">2.2</text>
     </g>
    </g>
    <g id="xtick_8">
     <g id="line2d_57">
      <g>
       <use href="#m94fa1543ef" x="662" y="244.4" style="stroke: #000000; stroke-width: 1.5"/>
      </g>
     </g>
     <g id="line2d_58">
      <g>
       <use href="#m89f2c88136" x="662" y="15.9" style="stroke: #000000; stroke-width: 1.5"/>
      </g>
     </g>
     <g id="text_8">
      <text style="font-size: 13.2px; font-family: 'DejaVu Sans Mono'; text-anchor: middle" x="662" y="258.000063" transform="rotate(-0 662 258.000063)">2.4</text>
     </g>
    </g>
    <g id="xtick_9">
     <g id="line2d_59">
      <defs>
       <path id="m6d14c13a03" d="M 0 0 
L 0 -4.7 
" style="stroke: #000000; stroke-width: 1.5"/>
      </defs>
      <g>
       <use href="#m6d14c13a03" x="71.125" y="244.4" style="stroke: #000000; stroke-width: 1.5"/>
      </g>
     </g>
     <g id="line2d_60">
      <defs>
       <path id="mef1e3b182b" d="M 0 0 
L 0 4.7 
" style="stroke: #000000; stroke-width: 1.5"/>
      </defs>
      <g>
       <use href="#mef1e3b182b" x="71.125" y="15.9" style="stroke: #000000; stroke-width: 1.5"/>
      </g>
     </g>
    </g>
    <g id="xtick_10">
     <g id="line2d_61">
      <g>
       <use href="#m6d14c13a03" x="111.875" y="244.4" style="stroke: #000000; stroke-width: 1.5"/>
      </g>
     </g>
     <g id="line2d_62">
      <g>
       <use href="#mef1e3b182b" x="111.875" y="15.9" style="stroke: #000000; stroke-width: 1.5"/>
      </g>
     </g>
    </g>
    <g id="xtick_11">
     <g id="line2d_63">
      <g>
       <use href="#m6d14c13a03" x="132.25" y="244.4" style="stroke: #000000; stroke-width: 1.5"/>
      </g>
     </g>
     <g id="line2d_64">
      <g>
       <use href="#mef1e3b182b" x="132.25" y="15.9" style="stroke: #000000; stroke-width: 1.5"/>
      </g>
     </g>
    </g>
    <g id="xtick_12">
     <g id="line2d_65">
      <g>
       <use href="#m6d14c13a03" x="152.625" y="244.4" style="stroke: #000000; stroke-width: 1.5"/>
      </g>
     </g>
     <g id="line2d_66">
      <g>
       <use href="#mef1e3b182b" x="152.625" y="15.9" style="stroke: #000000; stroke-width: 1.5"/>
      </g>
     </g>
    </g>
    <g id="xtick_13">
     <g id="line2d_67">
      <g>
       <use href="#m6d14c13a03" x="193.375" y="244.4" style="stroke: #000000; stroke-width: 1.5"/>
      </g>
     </g>
     <g id="line2d_68">
      <g>
       <use href="#mef1e3b182b" x="193.375" y="15.9" style="stroke: #000000; stroke-width: 1.5"/>
      </g>
     </g>
    </g>
    <g id="xtick_14">
     <g id="line2d_69">
      <g>
       <use href="#m6d14c13a03" x="213.75" y="244.4" style="stroke: #000000; stroke-width: 1.5"/>
      </g>
     </g>
     <g id="line2d_70">
      <g>
       <use href="#mef1e3b182b" x="213.75" y="15.9" style="stroke: #000000; stroke-width: 1.5"/>
      </g>
     </g>
    </g>
    <g id="xtick_15">
     <g id="line2d_71">
      <g>
       <use href="#m6d14c13a03" x="234.125" y="244.4" style="stroke: #000000; stroke-width: 1.5"/>
      </g>
     </g>
     <g id="line2d_72">
      <g>
       <use href="#mef1e3b182b" x="234.125" y="15.9" style="stroke: #000000; stroke-width: 1.5"/>
      </g>
     </g>
    </g>
    <g id="xtick_16">
     <g id="line2d_73">
      <g>
       <use href="#m6d14c13a03" x="274.875" y="244.4" style="stroke: #000000; stroke-width: 1.5"/>
      </g>
     </g>
     <g id="line2d_74">
      <g>
       <use href="#mef1e3b182b" x="274.875" y="15.9" style="stroke: #000000; stroke-width: 1.5"/>
      </g>
     </g>
    </g>
    <g id="xtick_17">
     <g id="line2d_75">
      <g>
       <use href="#m6d14c13a03" x="295.25" y="244.4" style="stroke: #000000; stroke-width: 1.5"/>
      </g>
     </g>
     <g id="line2d_76">
      <g>
       <use href="#mef1e3b182b" x="295.25" y="15.9" style="stroke: #000000; stroke-width: 1.5"/>
      </g>
     </g>
    </g>
    <g id="xtick_18">
     <g id="line2d_77">
      <g>
       <use href="#m6d14c13a03" x="315.625" y="244.4" style="stroke: #000000; stroke-width: 1.5"/>
      </g>
     </g>
     <g id="line2d_78">
      <g>
       <use href="#mef1e3b182b" x="315.625" y="15.9" style="stroke: #000000; stroke-width: 1.5"/>
      </g>
     </g>
    </g>
    <g id="xtick_19">
     <g id="line2d_79">
      <g>
       <use href="#m6d14c13a03" x="356.375" y="244.4" style="stroke: #000000; stroke-width: 1.5"/>
      </g>
     </g>
     <g id="line2d_80">
      <g>
       <use href="#mef1e3b182b" x="356.375" y="15.9" style="stroke: #000000; stroke-width: 1.5"/>
      </g>
     </g>
    </g>
    <g id="xtick_20">
     <g id="line2d_81">
      <g>
       <use href="#m6d14c13a03" x="376.75" y="244.4" style="stroke: #000000; stroke-width: 1.5"/>
      </g>
     </g>
     <g id="line2d_82">
      <g>
       <use href="#mef1e3b182b" x="376.75" y="15.9" style="stroke: #000000; stroke-width: 1.5"/>
      </g>
     </g>
    </g>
    <g id="xtick_21">
     <g id="line2d_83">
      <g>
       <use href="#m6d14c13a03" x="397.125" y="244.4" style="stroke: #000000; stroke-width: 1.5"/>
      </g>
     </g>
     <g id="line2d_84">
      <g>
       <use href="#mef1e3b182b" x="397.125" y="15.9" style="stroke: #000000; stroke-width: 1.5"/>
      </g>
     </g>
    </g>
    <g id="xtick_22">
     <g id="line2d_85">
      <g>
       <use href="#m6d14c13a03" x="437.875" y="244.4" style="stroke: #000000; stroke-width: 1.5"/>
      </g>
     </g>
     <g id="line2d_86">
      <g>
       <use href="#mef1e3b182b" x="437.875" y="15.9" style="stroke: #000000; stroke-width: 1.5"/>
      </g>
     </g>
    </g>
    <g id="xtick_23">
     <g id="line2d_87">
      <g>
       <use href="#m6d14c13a03" x="458.25" y="244.4" style="stroke: #000000; stroke-width: 1.5"/>
      </g>
     </g>
     <g id="line2d_88">
      <g>
       <use href="#mef1e3b182b" x="458.25" y="15.9" style="stroke: #000000; stroke-width: 1.5"/>
      </g>
     </g>
    </g>
    <g id="xtick_24">
     <g id="line2d_89">
      <g>
       <use href="#m6d14c13a03" x="478.625" y="244.4" style="stroke: #000000; stroke-width: 1.5"/>
      </g>
     </g>
     <g id="line2d_90">
      <g>
       <use href="#mef1e3b182b" x="478.625" y="15.9" style="stroke: #000000; stroke-width: 1.5"/>
      </g>
     </g>
    </g>
    <g id="xtick_25">
     <g id="line2d_91">
      <g>
       <use href="#m6d14c13a03" x="519.375" y="244.4" style="stroke: #000000; stroke-width: 1.5"/>
      </g>
     </g>
     <g id="line2d_92">
      <g>
       <use href="#mef1e3b182b" x="519.375" y="15.9" style="stroke: #000000; stroke-width: 1.5"/>
      </g>
     </g>
    </g>
    <g id="xtick_26">
     <g id="line2d_93">
      <g>
       <use href="#m6d14c13a03" x="539.75" y="244.4" style="stroke: #000000; stroke-width: 1.5"/>
      </g>
     </g>
     <g id="line2d_94">
      <g>
       <use href="#mef1e3b182b" x="539.75" y="15.9" style="stroke: #000000; stroke-width: 1.5"/>
      </g>
     </g>
    </g>
    <g id="xtick_27">
     <g id="line2d_95">
      <g>
       <use href="#m6d14c13a03" x="560.125" y="244.4" style="stroke: #000000; stroke-width: 1.5"/>
      </g>
     </g>
     <g id="line2d_96">
      <g>
       <use href="#mef1e3b182b" x="560.125" y="15.9" style="stroke: #000000; stroke-width: 1.5"/>
      </g>
     </g>
    </g>
    <g id="xtick_28">
     <g id="line2d_97">
      <g>
       <use href="#m6d14c13a03" x="600.875" y="244.4" style="stroke: #000000; stroke-width: 1.5"/>
      </g>
     </g>
     <g id="line2d_98">
      <g>
       <use href="#mef1e3b182b" x="600.875" y="15.9" style="stroke: #000000; stroke-width: 1.5"/>
      </g>
     </g>
    </g>
    <g id="xtick_29">
     <g id="line2d_99">
      <g>
       <use href="#m6d14c13a03" x="621.25" y="244.4" style="stroke: #000000; stroke-width: 1.5"/>
      </g>
     </g>
     <g id="line2d_100">
      <g>
       <use href="#mef1e3b182b" x="621.25" y="15.9" style="stroke: #000000; stroke-width: 1.5"/>
      </g>
     </g>
    </g>
    <g id="xtick_30">
     <g id="line2d_101">
      <g>
       <use href="#m6d14c13a03" x="641.625" y="244.4" style="stroke: #000000; stroke-width: 1.5"/>
      </g>
     </g>
     <g id="line2d_102">
      <g>
       <use href="#mef1e3b182b" x="641.625" y="15.9" style="stroke: #000000; stroke-width: 1.5"/>
      </g>
     </g>
    </g>
    <g id="xtick_31">
     <g id="line2d_103">
      <g>
       <use href="#m6d14c13a03" x="682.375" y="244.4" style="stroke: #000000; stroke-width: 1.5"/>
      </g>
     </g>
     <g id="line2d_104">
      <g>
       <use href="#mef1e3b182b" x="682.375" y="15.9" style="stroke: #000000; stroke-width: 1.5"/>
      </g>
     </g>
    </g>
    <g id="xtick_32">
     <g id="line2d_105">
      <g>
       <use href="#m6d14c13a03" x="702.75" y="244.4" style="stroke: #000000; stroke-width: 1.5"/>
      </g>
     </g>
     <g id="line2d_106">
      <g>
       <use href="#mef1e3b182b" x="702.75" y="15.9" style="stroke: #000000; stroke-width: 1.5"/>
      </g>
     </g>
    </g>
    <g id="xtick_33">
     <g id="line2d_107">
      <g>
       <use href="#m6d14c13a03" x="723.125" y="244.4" style="stroke: #000000; stroke-width: 1.5"/>
      </g>
     </g>
     <g id="line2d_108">
      <g>
       <use href="#mef1e3b182b" x="723.125" y="15.9" style="stroke: #000000; stroke-width: 1.5"/>
      </g>
     </g>
    </g>
    <g id="text_9">
     <!-- Wavelength [$\mathrm{\mu m}$] -->
     <g transform="translate(324.76 275.11025)">
      <text><tspan x="0 8.729736 17.459473 26.189209 34.918945 43.648682 52.378418 61.108154 69.837891 78.567627 87.297363 96.0271" y="-0.515625" style="font-size: 14.5px; font-family: 'DejaVu Sans Mono'; white-space: pre">Wavelength [</tspan><tspan x="104.756836 113.982178" y="-0.515625" style="font-size: 14.5px; font-family: 'DejaVu Sans'; white-space: pre">μm</tspan><tspan x="128.106934" y="-0.515625" style="font-size: 14.5px; font-family: 'DejaVu Sans Mono'; white-space: pre">]</tspan></text>
     </g>
    </g>
   </g>
   <g id="matplotlib.axis_2">
    <g id="ytick_1">
     <g id="line2d_109">
      <defs>
       <path id="m3b53eb9cda" d="M 0 0 
L 7 0 
" style="stroke: #000000; stroke-width: 1.5"/>
      </defs>
      <g>
       <use href="#m3b53eb9cda" x="51.2" y="227.2" style="stroke: #000000; stroke-width: 1.5"/>
      </g>
     </g>
     <g id="line2d_110">
      <defs>
       <path id="m2625086e09" d="M 0 0 
L -7 0 
" style="stroke: #000000; stroke-width: 1.5"/>
      </defs>
      <g>
       <use href="#m2625086e09" x="735.2" y="227.2" style="stroke: #000000; stroke-width: 1.5"/>
      </g>
     </g>
     <g id="text_10">
      <text style="font-size: 13.2px; font-family: 'DejaVu Sans Mono'; text-anchor: end" x="48.4" y="232.250031" transform="rotate(-0 48.4 232.250031)">0.5</text>
     </g>
    </g>
    <g id="ytick_2">
     <g id="line2d_111">
      <g>
       <use href="#m3b53eb9cda" x="51.2" y="186.6" style="stroke: #000000; stroke-width: 1.5"/>
      </g>
     </g>
     <g id="line2d_112">
      <g>
       <use href="#m2625086e09" x="735.2" y="186.6" style="stroke: #000000; stroke-width: 1.5"/>
      </g>
     </g>
     <g id="text_11">
      <text style="font-size: 13.2px; font-family: 'DejaVu Sans Mono'; text-anchor: end" x="48.4" y="191.650031" transform="rotate(-0 48.4 191.650031)">1.0</text>
     </g>
    </g>
    <g id="ytick_3">
     <g id="line2d_113">
      <g>
       <use href="#m3b53eb9cda" x="51.2" y="146" style="stroke: #000000; stroke-width: 1.5"/>
      </g>
     </g>
     <g id="line2d_114">
      <g>
       <use href="#m2625086e09" x="735.2" y="146" style="stroke: #000000; stroke-width: 1.5"/>
      </g>
     </g>
     <g id="text_12">
      <text style="font-size: 13.2px; font-family: 'DejaVu Sans Mono'; text-anchor: end" x="48.4" y="151.050031" transform="rotate(-0 48.4 151.050031)">1.5</text>
     </g>
    </g>
    <g id="ytick_4">
     <g id="line2d_115">
      <g>
       <use href="#m3b53eb9cda" x="51.2" y="105.4" style="stroke: #000000; stroke-width: 1.5"/>
      </g>
     </g>
     <g id="line2d_116">
      <g>
       <use href="#m2625086e09" x="735.2" y="105.4" style="stroke: #000000; stroke-width: 1.5"/>
      </g>
     </g>
     <g id="text_13">
      <text style="font-size: 13.2px; font-family: 'DejaVu Sans Mono'; text-anchor: end" x="48.4" y="110.450031" transform="rotate(-0 48.4 110.450031)">2.0</text>
     </g>
    </g>
    <g id="ytick_5">
     <g id="line2d_117">
      <g>
       <use href="#m3b53eb9cda" x="51.2" y="64.8" style="stroke: #000000; stroke-width: 1.5"/>
      </g>
     </g>
     <g id="line2d_118">
      <g>
       <use href="#m2625086e09" x="735.2" y="64.8" style="stroke: #000000; stroke-width: 1.5"/>
      </g>
     </g>
     <g id="text_14">
      <text style="font-size: 13.2px; font-family: 'DejaVu Sans Mono'; text-anchor: end" x="48.4" y="69.850031" transform="rotate(-0 48.4 69.850031)">2.5</text>
     </g>
    </g>
    <g id="ytick_6">
     <g id="line2d_119">
      <g>
       <use href="#m3b53eb9cda" x="51.2" y="24.2" style="stroke: #000000; stroke-width: 1.5"/>
      </g>
     </g>
     <g id="line2d_120">
      <g>
       <use href="#m2625086e09" x="735.2" y="24.2" style="stroke: #000000; stroke-width: 1.5"/>
      </g>
     </g>
     <g id="text_15">
      <text style="font-size: 13.2px; font-family: 'DejaVu Sans Mono'; text-anchor: end" x="48.4" y="29.250031" transform="rotate(-0 48.4 29.250031)">3.0</text>
     </g>
    </g>
    <g id="ytick_7">
     <g id="line2d_121">
      <defs>
       <path id="m221d2053d0" d="M 0 0 
L 4.7 0 
" style="stroke: #000000; stroke-width: 1.5"/>
      </defs>
      <g>
       <use href="#m221d2053d0" x="51.2" y="243.44" style="stroke: #000000; stroke-width: 1.5"/>
      </g>
     </g>
     <g id="line2d_122">
      <defs>
       <path id="mf106d8d7a2" d="M 0 0 
L -4.7 0 
" style="stroke: #000000; stroke-width: 1.5"/>
      </defs>
      <g>
       <use href="#mf106d8d7a2" x="735.2" y="243.44" style="stroke: #000000; stroke-width: 1.5"/>
      </g>
     </g>
    </g>
    <g id="ytick_8">
     <g id="line2d_123">
      <g>
       <use href="#m221d2053d0" x="51.2" y="235.32" style="stroke: #000000; stroke-width: 1.5"/>
      </g>
     </g>
     <g id="line2d_124">
      <g>
       <use href="#mf106d8d7a2" x="735.2" y="235.32" style="stroke: #000000; stroke-width: 1.5"/>
      </g>
     </g>
    </g>
    <g id="ytick_9">
     <g id="line2d_125">
      <g>
       <use href="#m221d2053d0" x="51.2" y="219.08" style="stroke: #000000; stroke-width: 1.5"/>
      </g>
     </g>
     <g id="line2d_126">
      <g>
       <use href="#mf106d8d7a2" x="735.2" y="219.08" style="stroke: #000000; stroke-width: 1.5"/>
      </g>
     </g>
    </g>
    <g id="ytick_10">
     <g id="line2d_127">
      <g>
       <use href="#m221d2053d0" x="51.2" y="210.96" style="stroke: #000000; stroke-width: 1.5"/>
      </g>
     </g>
     <g id="line2d_128">
      <g>
       <use href="#mf106d8d7a2" x="735.2" y="210.96" style="stroke: #000000; stroke-width: 1.5"/>
      </g>
     </g>
    </g>
    <g id="ytick_11">
     <g id="line2d_129">
      <g>
       <use href="#m221d2053d0" x="51.2" y="202.84" style="stroke: #000000; stroke-width: 1.5"/>
      </g>
     </g>
     <g id="line2d_130">
      <g>
       <use href="#mf106d8d7a2" x="735.2" y="202.84" style="stroke: #000000; stroke-width: 1.5"/>
      </g>
     </g>
    </g>
    <g id="ytick_12">
     <g id="line2d_131">
      <g>
       <use href="#m221d2053d0" x="51.2" y="194.72" style="stroke: #000000; stroke-width: 1.5"/>
      </g>
     </g>
     <g id="line2d_132">
      <g>
       <use href="#mf106d8d7a2" x="735.2" y="194.72" style="stroke: #000000; stroke-width: 1.5"/>
      </g>
     </g>
    </g>
    <g id="ytick_13">
     <g id="line2d_133">
      <g>
       <use href="#m221d2053d0" x="51.2" y="178.48" style="stroke: #000000; stroke-width: 1.5"/>
      </g>
     </g>
     <g id="line2d_134">
      <g>
       <use href="#mf106d8d7a2" x="735.2" y="178.48" style="stroke: #000000; stroke-width: 1.5"/>
      </g>
     </g>
    </g>
    <g id="ytick_14">
     <g id="line2d_135">
      <g>
       <use href="#m221d2053d0" x="51.2" y="170.36" style="stroke: #000000; stroke-width: 1.5"/>
      </g>
     </g>
     <g id="line2d_136">
      <g>
       <use href="#mf106d8d7a2" x="735.2" y="170.36" style="stroke: #000000; stroke-width: 1.5"/>
      </g>
     </g>
    </g>
    <g id="ytick_15">
     <g id="line2d_137">
      <g>
       <use href="#m221d2053d0" x="51.2" y="162.24" style="stroke: #000000; stroke-width: 1.5"/>
      </g>
     </g>
     <g id="line2d_138">
      <g>
       <use href="#mf106d8d7a2" x="735.2" y="162.24" style="stroke: #000000; stroke-width: 1.5"/>
      </g>
     </g>
    </g>
    <g id="ytick_16">
     <g id="line2d_139">
      <g>
       <use href="#m221d2053d0" x="51.2" y="154.12" style="stroke: #000000; stroke-width: 1.5"/>
      </g>
     </g>
     <g id="line2d_140">
      <g>
       <use href="#mf106d8d7a2" x="735.2" y="154.12" style="stroke: #000000; stroke-width: 1.5"/>
      </g>
     </g>
    </g>
    <g id="ytick_17">
     <g id="line2d_141">
      <g>
       <use href="#m221d2053d0" x="51.2" y="137.88" style="stroke: #000000; stroke-width: 1.5"/>
      </g>
     </g>
     <g id="line2d_142">
      <g>
       <use href="#mf106d8d7a2" x="735.2" y="137.88" style="stroke: #000000; stroke-width: 1.5"/>
      </g>
     </g>
    </g>
    <g id="ytick_18">
     <g id="line2d_143">
      <g>
       <use href="#m221d2053d0" x="51.2" y="129.76" style="stroke: #000000; stroke-width: 1.5"/>
      </g>
     </g>
     <g id="line2d_144">
      <g>
       <use href="#mf106d8d7a2" x="735.2" y="129.76" style="stroke: #000000; stroke-width: 1.5"/>
      </g>
     </g>
    </g>
    <g id="ytick_19">
     <g id="line2d_145">
      <g>
       <use href="#m221d2053d0" x="51.2" y="121.64" style="stroke: #000000; stroke-width: 1.5"/>
      </g>
     </g>
     <g id="line2d_146">
      <g>
       <use href="#mf106d8d7a2" x="735.2" y="121.64" style="stroke: #000000; stroke-width: 1.5"/>
      </g>
     </g>
    </g>
    <g id="ytick_20">
     <g id="line2d_147">
      <g>
       <use href="#m221d2053d0" x="51.2" y="113.52" style="stroke: #000000; stroke-width: 1.5"/>
      </g>
     </g>
     <g id="line2d_148">
      <g>
       <use href="#mf106d8d7a2" x="735.2" y="113.52" style="stroke: #000000; stroke-width: 1.5"/>
      </g>
     </g>
    </g>
    <g id="ytick_21">
     <g id="line2d_149">
      <g>
       <use href="#m221d2053d0" x="51.2" y="97.28" style="stroke: #000000; stroke-width: 1.5"/>
      </g>
     </g>
     <g id="line2d_150">
      <g>
       <use href="#mf106d8d7a2" x="735.2" y="97.28" style="stroke: #000000; stroke-width: 1.5"/>
      </g>
     </g>
    </g>
    <g id="ytick_22">
     <g id="line2d_151">
      <g>
       <use href="#m221d2053d0" x="51.2" y="89.16" style="stroke: #000000; stroke-width: 1.5"/>
      </g>
     </g>
     <g id="line2d_152">
      <g>
       <use href="#mf106d8d7a2" x="735.2" y="89.16" style="stroke: #000000; stroke-width: 1.5"/>
      </g>
     </g>
    </g>
    <g id="ytick_23">
     <g id="line2d_153">
      <g>
       <use href="#m221d2053d0" x="51.2" y="81.04" style="stroke: #000000; stroke-width: 1.5"/>
      </g>
     </g>
     <g id="line2d_154">
      <g>
       <use href="#mf106d8d7a2" x="735.2" y="81.04" style="stroke: #000000; stroke-width: 1.5"/>
      </g>
     </g>
    </g>
    <g id="ytick_24">
     <g id="line2d_155">
      <g>
       <use href="#m221d2053d0" x="51.2" y="72.92" style="stroke: #000000; stroke-width: 1.5"/>
      </g>
     </g>
     <g id="line2d_156">
      <g>
       <use href="#mf106d8d7a2" x="735.2" y="72.92" style="stroke: #000000; stroke-width: 1.5"/>
      </g>
     </g>
    </g>
    <g id="ytick_25">
     <g id="line2d_157">
      <g>
       <use href="#m221d2053d0" x="51.2" y="56.68" style="stroke: #000000; stroke-width: 1.5"/>
      </g>
     </g>
     <g id="line2d_158">
      <g>
       <use href="#mf106d8d7a2" x="735.2" y="56.68" style="stroke: #000000; stroke-width: 1.5"/>
      </g>
     </g>
    </g>
    <g id="ytick_26">
     <g id="line2d_159">
      <g>
       <use href="#m221d2053d0" x="51.2" y="48.56" style="stroke: #000000; stroke-width: 1.5"/>
      </g>
     </g>
     <g id="line2d_160">
      <g>
       <use href="#mf106d8d7a2" x="735.2" y="48.56" style="stroke: #000000; stroke-width: 1.5"/>
      </g>
     </g>
    </g>
    <g id="ytick_27">
     <g id="line2d_161">
      <g>
       <use href="#m221d2053d0" x="51.2" y="40.44" style="stroke: #000000; stroke-width: 1.5"/>
      </g>
     </g>
     <g id="line2d_162">
      <g>
       <use href="#mf106d8d7a2" x="735.2" y="40.44" style="stroke: #000000; stroke-width: 1.5"/>
      </g>
     </g>
    </g>
    <g id="ytick_28">
     <g id="line2d_163">
      <g>
       <use href="#m221d2053d0" x="51.2" y="32.32" style="stroke: #000000; stroke-width: 1.5"/>
      </g>
     </g>
     <g id="line2d_164">
      <g>
       <use href="#mf106d8d7a2" x="735.2" y="32.32" style="stroke: #000000; stroke-width: 1.5"/>
      </g>
     </g>
    </g>
    <g id="ytick_29">
     <g id="line2d_165">
      <g>
       <use href="#m221d2053d0" x="51.2" y="16.08" style="stroke: #000000; stroke-width: 1.5"/>
      </g>
     </g>
     <g id="line2d_166">
      <g>
       <use href="#mf106d8d7a2" x="735.2" y="16.08" style="stroke: #000000; stroke-width: 1.5"/>
      </g>
     </g>
    </g>
   </g>
   <g id="line2d_167">
    <path d="M 51 204.190268 
L 52.6 200.965488 
L 54.4 199.341047 
L 56.2 193.092071 
L 56.7 193.659343 
L 58 195.328504 
L 58.8 193.241876 
L 59.8 193.557833 
L 61 196.181589 
L 61.6 198.981779 
L 62.4 201.737863 
L 63.8 196.037162 
L 65.2 194.600844 
L 66.3 194.387107 
L 67 194.105759 
L 68.4 193.026998 
L 68.8 192.871162 
L 70.6 190.296371 
L 72.4 189.930534 
L 73.4 190.331993 
L 74.2 191.046264 
L 76.2 189.300177 
L 77.8 186.965323 
L 79.6 187.827218 
L 81.9 183.495539 
L 83.2 180.680964 
L 84.8 180.106975 
L 85 179.867082 
L 86.9 176.399086 
L 87.7 182.854048 
L 88.5 199.00901 
L 88.6 198.780047 
L 90 196.032173 
L 90.4 194.626114 
L 94 186.788204 
L 95.9 179.639142 
L 97.6 175.481946 
L 99.6 172.982235 
L 101.2 170.695049 
L 103 166.25967 
L 104.8 164.481371 
L 106.6 162.249979 
L 109.3 155.295874 
L 110.2 155.268653 
L 111.6 157.123667 
L 112 158.265472 
L 113.8 161.663042 
L 114.4 163.233196 
L 115.6 164.86342 
L 116.1 164.302727 
L 117.4 155.314235 
L 118.4 150.704887 
L 119.2 149.347844 
L 120.7 145.883937 
L 122.2 135.81915 
L 122.8 133.979473 
L 124.6 132.264135 
L 125.1 131.228338 
L 126.8 122.139948 
L 127.9 119.971786 
L 128.2 120.086352 
L 129.6 124.260699 
L 130 127.853369 
L 131.3 136.850349 
L 131.8 137.373386 
L 133.6 139.76578 
L 135.4 141.254356 
L 137.2 143.818824 
L 138.2 143.064959 
L 139 140.825504 
L 140.4 141.450477 
L 140.8 140.27331 
L 142.7 131.650094 
L 143.9 125.969238 
L 144.4 127.151457 
L 145 130.633333 
L 146.2 140.62596 
L 146.7 143.749878 
L 148.1 170.733534 
L 148.8 171.287344 
L 149.8 138.878501 
L 151.8 129.25862 
L 154.1 127.668614 
L 155.2 129.46137 
L 155.8 129.712343 
L 157 130.990759 
L 158.7 136.212991 
L 158.8 137.441448 
L 160 150.178788 
L 160.6 175.455151 
L 161.5 160.267388 
L 163.75 183.379805 
L 164.7 149.896279 
L 165.5 132.882543 
L 166 132.061458 
L 169.6 120.754325 
L 172.6 116.449675 
L 175 109.361477 
L 175.5 106.382001 
L 176.8 100.493465 
L 177.5 100.446898 
L 178.6 98.228722 
L 179.5 94.430258 
L 182.3 75.30049 
L 184 72.610802 
L 185.8 76.09492 
L 186.5 74.883096 
L 187.6 73.308802 
L 188.5 75.020593 
L 189.3 81.642186 
L 190 101.120449 
L 190.7 128.514858 
L 191.1 128.740234 
L 191.8 105.461871 
L 193 97.792456 
L 194.3 135.685284 
L 194.8 136.182525 
L 196.2 65.902002 
L 196.6 63.801281 
L 198.7 56.828969 
L 200.2 56.727338 
L 202 55.592507 
L 203.8 48.650202 
L 206.1 49.69666 
L 207.4 53.570892 
L 209.2 58.067534 
L 211.1 59.191773 
L 212.8 55.15431 
L 214.6 54.021153 
L 215.4 52.717608 
L 218.2 58.818838 
L 220 61.744763 
L 221.8 67.942752 
L 222.3 69.203989 
L 224.3 80.109744 
L 225.6 94.751947 
L 226.6 114.753274 
L 226.8 149.73354 
L 227.2 187.094071 
L 229 178.226815 
L 231 189.588613 
L 232.6 193.584901 
L 235 193.962426 
L 236.2 190.932137 
L 238 191.938828 
L 238.7 190.409956 
L 239.8 185.771766 
L 241.2 182.425295 
L 241.6 183.54916 
L 243.4 183.606267 
L 243.7 183.965771 
L 246.2 171.607157 
L 247 173.24225 
L 248.8 181.906897 
L 250.6 185.065926 
L 251.2 183.986321 
L 252.4 180.51711 
L 254.2 180.232019 
L 256 181.422741 
L 256 181.422741 
L 257.8 180.9611 
L 259.6 183.240583 
L 260.3 183.784083 
L 261.4 185.026748 
L 263.2 187.917284 
L 264.5 190.364753 
L 265 190.129454 
L 266.8 186.556035 
L 268.6 185.700654 
L 270.4 181.499623 
L 272.2 180.145385 
L 274 174.356225 
L 275.8 172.920002 
L 277.6 173.693599 
L 279.4 169.937975 
L 281.2 169.709806 
L 283 167.848435 
L 284.8 167.124745 
L 286.6 164.636645 
L 288.4 163.161588 
L 290.2 159.845894 
L 292 157.52939 
L 293.8 155.976495 
L 295.6 154.805569 
L 297.4 152.412929 
L 298.8 151.86593 
L 299.2 151.435004 
L 302.8 147.051986 
L 304.6 143.62122 
L 306.4 138.834207 
L 307.5 138.806665 
L 308.2 138.40025 
L 310 135.210977 
L 311.8 132.796576 
L 313.6 128.674872 
L 315.6 123.349527 
L 317.2 119.443246 
L 318.3 117.818947 
L 319.2 131.420293 
L 320.2 118.89154 
L 320.8 118.410652 
L 322.4 118.699421 
L 322.6 118.390063 
L 324.4 115.016248 
L 326.2 109.371382 
L 327.4 109.887971 
L 328 109.592419 
L 332.4 105.318772 
L 334.3 104.282332 
L 335.2 103.542645 
L 337 102.300021 
L 338.8 99.806031 
L 340.6 99.626461 
L 342.4 98.032557 
L 344.2 97.3997 
L 346 95.653132 
L 347.8 95.106957 
L 349.6 93.627928 
L 350.6 92.506467 
L 351.4 92.166856 
L 353.2 91.795786 
L 355 91.234183 
L 357.1 90.095958 
L 358.6 89.854091 
L 360.4 89.097489 
L 362.2 89.262903 
L 362.8 88.999892 
L 364 88.283883 
L 365.8 87.924127 
L 367.6 85.772806 
L 368.5 86.33269 
L 369.4 88.373824 
L 371.2 89.521114 
L 371.5 89.84871 
L 373 91.200976 
L 375 94.171418 
L 376.6 97.23364 
L 378.6 102.669075 
L 380.2 104.872959 
L 382 107.862896 
L 383.8 111.832792 
L 385.6 118.410537 
L 388.5 121.439135 
L 389.2 121.908808 
L 391 126.411561 
L 392.8 127.052794 
L 394.6 134.369602 
L 396.4 132.44622 
L 398.2 137.685679 
L 401.8 142.673989 
L 404 151.628096 
L 405.4 155.876097 
L 408 161.518564 
L 409 162.047702 
L 410.8 164.234753 
L 411.2 164.268041 
L 412.6 164.094048 
L 413.7 164.770071 
L 414.4 166.808711 
L 415.5 169.473688 
L 416.2 173.775138 
L 417.5 182.981127 
L 418 181.911892 
L 419.8 174.84489 
L 420 174.566639 
L 421.6 175.892633 
L 422.4 174.6971 
L 423.4 179.164222 
L 425 187.184652 
L 425.2 185.600162 
L 426.9 174.792424 
L 428.8 180.488279 
L 430.6 180.415116 
L 431.2 180.047545 
L 432.4 179.888403 
L 433.7 182.398067 
L 434.2 183.863322 
L 436 185.873191 
L 436.2 186.32382 
L 438.7 183.076201 
L 440 195.38548 
L 441.5 201.894583 
L 442.8 198.295053 
L 443.2 197.731095 
L 444.3 193.03453 
L 445 191.912473 
L 446.4 191.335712 
L 446.8 190.904257 
L 448.6 187.20625 
L 450.7 179.739007 
L 452.1 179.654343 
L 452.2 179.83639 
L 454.2 185.168192 
L 455.8 183.580955 
L 456.4 181.821164 
L 457.6 179.065217 
L 457.8 179.03649 
L 459.2 177.335399 
L 459.4 177.693338 
L 460.7 177.555419 
L 462.1 172.398592 
L 463 174.025763 
L 463.5 176.351868 
L 464.8 177.04498 
L 465.6 176.388267 
L 466.6 178.548328 
L 467.1 179.17986 
L 468.4 177.875176 
L 469.2 178.056758 
L 470.6 183.599971 
L 472 181.790128 
L 473.8 191.616498 
L 474.5 197.277403 
L 475.6 191.13489 
L 476.3 184.917531 
L 477.4 183.519617 
L 479.2 188.994212 
L 479.9 187.737888 
L 481 187.342234 
L 481.3 188.584587 
L 482.8 193.025569 
L 484.6 188.165302 
L 484.9 188.480089 
L 486 188.834308 
L 486.4 189.71657 
L 488.2 187.716235 
L 490 191.634486 
L 491.8 188.224693 
L 492 188.75155 
L 493.6 193.690817 
L 495 191.858046 
L 495.4 190.17173 
L 497.2 190.615777 
L 497.5 189.292814 
L 499 184.724486 
L 500.8 186.780578 
L 502.6 182.89808 
L 504.4 184.965108 
L 504.9 183.614458 
L 506.2 179.005147 
L 507.4 179.295427 
L 508 180.064567 
L 509.9 176.52016 
L 511.6 176.072094 
L 513.4 172.217134 
L 513.7 172.097436 
L 515.2 172.025969 
L 517.4 169.903554 
L 518.8 167.734322 
L 520.6 167.422829 
L 522.4 164.914253 
L 524.2 161.988593 
L 524.9 161.731832 
L 526 161.849403 
L 527.8 160.108511 
L 529.6 158.065497 
L 533.2 157.734266 
L 535 157.088635 
L 536.8 155.86424 
L 538.6 154.881164 
L 540.4 154.269191 
L 542.2 152.880957 
L 544 152.920262 
L 544.8 152.196749 
L 545.8 151.462563 
L 549.4 150.509151 
L 549.8 150.12813 
L 551.2 149.046554 
L 553 148.998633 
L 554.8 150.25472 
L 556.6 149.143363 
L 558.4 148.428995 
L 560.2 148.635624 
L 562 148.067681 
L 563.8 148.592211 
L 565 148.15777 
L 565.6 148.120549 
L 567.4 149.310453 
L 569.2 148.571385 
L 571 151.018335 
L 572.8 150.106059 
L 574.6 149.728944 
L 575 150.017078 
L 576.4 151.165549 
L 578.2 151.604013 
L 580 152.505155 
L 581.8 152.271002 
L 583.6 153.9967 
L 585.4 156.820262 
L 587.2 153.869719 
L 589 155.417024 
L 590.8 155.419604 
L 592.6 156.2349 
L 594.4 155.319852 
L 596.2 156.217804 
L 598 157.761165 
L 599.9 157.937648 
L 601.6 159.470314 
L 603.4 158.32369 
L 605.2 159.422405 
L 607 161.924054 
L 608.8 159.997763 
L 609.9 160.313458 
L 610.6 160.388355 
L 612.4 161.27576 
L 614.2 161.557252 
L 614.9 161.907728 
L 616 162.810475 
L 617.4 163.098978 
L 618.2 191.837472 
L 619.3 194.144651 
L 619.6 191.9557 
L 620.5 186.623731 
L 621.5 184.977845 
L 622.5 186.438679 
L 623.2 189.332173 
L 623.6 189.822104 
L 625 187.366812 
L 625.3 186.222641 
L 626.8 183.780607 
L 627.8 187.284723 
L 628.6 190.888017 
L 630.3 194.148577 
L 630.4 193.907375 
L 632.2 192.643722 
L 632.3 192.397732 
L 634 190.668304 
L 635 191.875465 
L 635.8 192.262772 
L 637.3 189.415441 
L 637.6 190.115105 
L 639.3 195.331886 
L 639.4 195.146403 
L 641 191.365389 
L 641.2 191.505468 
L 643 193.424389 
L 643.5 194.190239 
L 644.8 193.893448 
L 646.6 194.327486 
L 649 191.830118 
L 650.2 191.535437 
L 652 194.559617 
L 653.8 194.678905 
L 654.9 195.476917 
L 657.4 193.76316 
L 660 192.570386 
L 661 193.061723 
L 662.8 192.794516 
L 663.9 194.64359 
L 664.6 196.161299 
L 667.8 198.777494 
L 668.2 198.781723 
L 670 199.927383 
L 671.8 200.041769 
L 673.6 200.928182 
L 675.4 200.280084 
L 675.7 200.640171 
L 677.2 202.78676 
L 679.6 205.192028 
L 680.8 206.788547 
L 682.6 208.585843 
L 684.4 207.817063 
L 685.5 206.61423 
L 686.2 206.758792 
L 688 207.986885 
L 688.4 208.726444 
L 690 210.981604 
L 691.6 212.315244 
L 692.8 213.859301 
L 693.4 213.564663 
L 695.2 211.563845 
L 696.4 210.757707 
L 697 212.049876 
L 698.5 214.330223 
L 698.8 213.872006 
L 700.7 213.019919 
L 702.8 217.651922 
L 704.2 219.393192 
L 706 221.253592 
L 707.8 222.735293 
L 708.5 223.528464 
L 709.6 222.974874 
L 710.7 222.163417 
L 711.4 223.025822 
L 712.8 225.224281 
L 713.2 225.471459 
L 715 226.0011 
L 716.8 225.856557 
L 717.8 226.08546 
L 718.6 226.475478 
L 720.4 228.662544 
L 720.6 228.649363 
L 722.2 227.743919 
L 724.2 228.310775 
L 726.3 225.770333 
L 728.2 229.554595 
L 729.4 228.2199 
L 730 227.746481 
L 731.6 225.783057 
L 733.4 230.085552 
L 734.8 228.175971 
L 735.3 227.150663 
L 736.6 227.088888 
L 737 227.383115 
L 737 227.383115 
" clip-path="url(#p9d8dd393e2)" style="fill: none; stroke: #6cb6f2; stroke-width: 1.5; stroke-linecap: square"/>
   </g>
   <g id="patch_3">
    <path d="M 51.2 244.4 
L 51.2 15.9 
" style="fill: none; stroke: #000000; stroke-width: 1.6; stroke-linejoin: miter; stroke-linecap: square"/>
   </g>
   <g id="patch_4">
    <path d="M 735.2 244.4 
L 735.2 15.9 
" style="fill: none; stroke: #000000; stroke-width: 1.6; stroke-linejoin: miter; stroke-linecap: square"/>
   </g>
   <g id="patch_5">
    <path d="M 51.2 244.4 
L 735.2 244.4 
" style="fill: none; stroke: #000000; stroke-width: 1.6; stroke-linejoin: miter; stroke-linecap: square"/>
   </g>
   <g id="patch_6">
    <path d="M 51.2 15.9 
L 735.2 15.9 
" style="fill: none; stroke: #000000; stroke-width: 1.6; stroke-linejoin: miter; stroke-linecap: square"/>
   </g>
   <g id="line2d_168">
    <path d="M 51 192.600233 
L 52.6 189.932723 
L 53.8 189.075083 
L 54.4 188.36178 
L 56.2 182.145279 
L 56.7 182.421168 
L 58 184.513192 
L 58.8 183.092935 
L 59.8 182.984281 
L 61.7 185.761991 
L 63.4 182.650406 
L 64.5 181.058263 
L 65.2 180.414047 
L 67 180.05918 
L 67.4 179.852106 
L 68.8 179.839416 
L 70.6 178.184237 
L 72.4 177.916657 
L 74.2 180.308553 
L 75.9 179.759327 
L 76 179.555591 
L 77.8 176.98274 
L 78.1 177.064613 
L 79.6 177.738684 
L 81.4 174.789439 
L 83.4 171.343096 
L 85 169.856469 
L 85.5 169.138621 
L 86.5 168.369592 
L 86.8 169.638883 
L 87.5 172.100267 
L 88.6 193.568157 
L 90 188.288846 
L 91 181.220684 
L 92.2 179.110632 
L 94 175.143366 
L 94.6 173.024547 
L 95.8 170.920242 
L 97 169.31187 
L 97.6 168.907685 
L 99.4 169.661993 
L 100.9 169.494235 
L 101.2 168.855278 
L 103 163.402149 
L 104.6 160.540978 
L 104.8 160.453601 
L 106.6 159.251451 
L 108.4 155.951652 
L 110.2 155.856214 
L 112.1 157.910507 
L 113.8 157.567325 
L 115.6 158.345602 
L 115.8 158.00079 
L 117.4 149.958503 
L 121 138.8067 
L 122.2 134.377521 
L 122.8 133.3133 
L 124.6 133.428192 
L 126.4 131.933365 
L 127.9 129.166771 
L 128.2 129.213452 
L 130 133.562776 
L 130.2 133.687613 
L 131.8 134.403956 
L 133.6 135.652852 
L 135.4 136.282049 
L 137 137.672942 
L 137.2 137.651151 
L 139 134.045102 
L 139.3 134.290806 
L 140.8 135.04706 
L 142.6 133.664509 
L 143.9 130.768903 
L 144.4 131.655208 
L 146.2 140.616436 
L 148 146.999494 
L 148.7 150.181068 
L 149.5 140.731438 
L 149.8 140.207392 
L 151.8 133.929235 
L 154.1 131.146621 
L 155.2 131.937509 
L 156.4 131.536131 
L 157 130.761529 
L 158.7 131.619992 
L 158.8 132.410624 
L 160 140.155468 
L 161.1 167.073193 
L 162.5 176.523358 
L 163.7 159.711902 
L 164.9 127.524213 
L 166 127.236775 
L 166.7 126.078975 
L 167.8 124.873742 
L 169.6 122.53887 
L 171.4 122.066969 
L 175 120.416652 
L 176.8 114.862556 
L 178.6 116.31569 
L 180.4 114.319099 
L 184 109.91241 
L 185.8 111.526994 
L 187.6 107.477914 
L 189.4 109.024335 
L 189.8 109.076314 
L 191 117.464252 
L 191.2 117.762242 
L 193 116.080397 
L 193 116.080397 
L 194.7 118.550502 
L 195.5 107.167186 
L 196.6 103.362273 
L 198.4 104.066198 
L 200.2 104.570583 
L 202 104.128267 
L 203.8 98.486263 
L 204 98.526685 
L 207.4 100.513143 
L 209.2 101.24056 
L 212.8 98.16868 
L 214.6 99.279995 
L 214.9 99.193808 
L 216.4 98.950369 
L 218.2 98.810199 
L 220 98.257697 
L 221.3 99.290801 
L 221.8 100.039712 
L 223.7 101.342731 
L 225.3 109.915143 
L 226.2 149.819777 
L 226.6 184.685456 
L 227.2 181.062546 
L 228.7 171.070746 
L 229 171.4581 
L 231.2 177.267956 
L 232.6 182.31974 
L 233.7 184.023267 
L 234.4 184.43533 
L 236.2 185.672363 
L 238 186.265331 
L 238.7 184.826049 
L 239.8 180.936318 
L 241.2 178.208952 
L 241.6 179.237704 
L 243.4 179.519015 
L 243.7 179.870235 
L 246.2 167.488832 
L 247 168.530826 
L 248.8 175.340606 
L 250.6 179.571414 
L 251.2 179.127235 
L 252.4 176.314878 
L 254.2 176.373495 
L 256 177.715427 
L 256 177.715427 
L 257.8 178.317871 
L 259.6 181.268433 
L 261.7 183.888554 
L 263.2 185.930351 
L 264.5 188.012829 
L 265 187.518328 
L 266.8 183.355053 
L 268.6 181.345549 
L 268.8 180.824186 
L 270.4 177.02372 
L 271.7 175.744129 
L 272.2 174.975501 
L 274 168.351986 
L 274.5 167.563555 
L 275.8 166.277304 
L 277.6 166.447953 
L 279.4 162.920392 
L 281.2 162.530381 
L 283.1 160.702809 
L 284.8 160.67602 
L 285.9 159.712427 
L 286.6 158.798369 
L 288.4 157.306597 
L 288.8 156.619413 
L 290.2 154.515994 
L 293.8 150.522129 
L 294.5 149.93577 
L 295.6 149.250062 
L 297.4 146.952205 
L 299.8 143.225018 
L 302.8 139.94788 
L 304.6 136.665331 
L 306.4 132.181581 
L 308.2 132.10826 
L 310 130.170415 
L 311.8 128.033371 
L 313.6 124.257437 
L 315.4 119.831727 
L 317.2 117.894307 
L 319 117.466994 
L 320.8 114.387136 
L 322.6 112.818954 
L 324.4 110.738086 
L 324.9 109.565053 
L 326.2 106.860065 
L 328 105.854278 
L 329.9 104.00611 
L 333.4 102.307655 
L 335.2 101.297356 
L 337 101.062925 
L 338.8 99.74035 
L 340.6 100.406835 
L 342.4 99.806571 
L 344.2 99.922242 
L 346 99.069468 
L 347.8 99.325297 
L 349.6 98.996688 
L 350.6 98.553449 
L 351.4 98.344478 
L 353.2 98.216078 
L 355 97.935419 
L 356.8 97.445194 
L 358.7 97.479287 
L 360.4 97.189947 
L 362.2 97.68534 
L 364 97.350778 
L 365.8 97.637311 
L 366.9 96.81331 
L 367.6 96.084068 
L 369.4 96.932276 
L 371 95.417655 
L 371.2 95.45662 
L 373 96.518861 
L 376.6 100.691938 
L 377.5 102.536644 
L 378.4 103.558046 
L 379.8 103.541746 
L 380.2 103.991002 
L 382 106.456627 
L 383.8 109.785037 
L 385.6 115.59438 
L 389.2 119.458964 
L 391 124.464598 
L 392 125.46717 
L 392.8 125.732864 
L 394.6 132.22248 
L 396.4 130.720626 
L 398.2 135.599503 
L 400 138.152351 
L 401.8 140.934991 
L 404 149.546171 
L 405.4 153.463273 
L 409 160.579886 
L 410 163.17194 
L 410.8 163.138916 
L 411.2 162.728731 
L 412.6 162.665085 
L 413.7 163.321801 
L 414.4 165.348155 
L 416.2 169.597946 
L 417.5 173.505328 
L 418 173.998167 
L 419.8 172.974339 
L 420 173.301425 
L 421.6 174.350116 
L 422.4 173.258348 
L 423.4 173.873638 
L 424.9 175.508286 
L 425.2 174.836216 
L 426.9 173.341239 
L 428.8 178.783547 
L 430.6 178.842014 
L 431.2 178.563083 
L 432.4 178.58122 
L 433.7 180.933102 
L 434.2 182.337672 
L 436 184.554949 
L 436.2 184.998974 
L 438.7 181.679305 
L 440 194.065635 
L 441.4 197.519338 
L 442.8 196.960916 
L 443.2 196.296604 
L 444.3 191.734373 
L 445 190.697802 
L 446.4 190.074532 
L 446.8 189.629788 
L 448.6 186.071641 
L 450.7 178.594789 
L 452.1 178.429863 
L 452.2 178.606178 
L 454.2 183.602776 
L 455.8 181.881068 
L 456.4 180.222751 
L 457.6 177.669754 
L 457.8 177.618687 
L 459.2 175.761216 
L 459.4 176.096816 
L 460.7 176.135147 
L 462.1 171.194428 
L 463 172.969918 
L 463.5 175.192929 
L 464.8 175.617995 
L 465.6 174.937623 
L 466.6 177.068111 
L 467.1 177.743356 
L 468.4 176.552327 
L 469.2 176.675442 
L 470.6 182.134758 
L 472 180.287067 
L 473.8 186.335339 
L 474.9 192.824527 
L 475.6 189.154011 
L 476.3 183.476114 
L 477.4 182.332276 
L 479.2 187.236864 
L 479.9 186.202511 
L 481 186.15567 
L 481.3 187.317032 
L 482.8 191.353064 
L 484.6 186.977338 
L 484.9 187.226165 
L 486 187.338529 
L 486.4 188.132843 
L 488.2 186.515509 
L 488.5 187.142229 
L 490 190.010112 
L 491.8 187.125572 
L 492 187.592652 
L 493.6 192.091603 
L 495 190.676333 
L 495.4 189.109303 
L 497.2 189.042424 
L 497.5 187.81652 
L 499 183.733488 
L 500.8 185.388707 
L 502.6 181.879935 
L 504.4 183.544663 
L 504.9 182.333328 
L 506.2 178.086233 
L 507.4 178.118037 
L 508 178.757939 
L 509.9 175.584281 
L 511.6 174.997427 
L 513.4 171.436456 
L 513.7 171.297564 
L 515.2 171.130135 
L 517.4 169.130138 
L 518.8 167.076489 
L 520.6 166.590446 
L 522.4 164.202943 
L 524.2 161.456237 
L 524.9 161.154156 
L 526 161.200511 
L 527.8 159.59525 
L 529.6 157.727274 
L 533.2 157.209741 
L 535 156.531422 
L 536.8 155.349339 
L 538.6 154.377099 
L 540.4 153.726892 
L 542.2 152.399945 
L 544 152.314336 
L 544.8 151.631956 
L 545.8 150.949185 
L 549.4 149.960479 
L 549.8 149.611417 
L 551.2 148.641699 
L 553 148.562464 
L 554.8 149.617147 
L 556.6 148.613185 
L 558.4 147.95443 
L 560.2 148.10489 
L 562 147.611027 
L 563.8 148.06714 
L 565 147.689365 
L 565.6 147.680477 
L 567.4 148.785611 
L 569.2 148.213378 
L 571 150.398552 
L 572.8 149.652225 
L 574.6 149.371255 
L 575 149.632242 
L 576.4 150.685695 
L 578.2 151.137402 
L 580 151.991439 
L 581.8 151.874074 
L 583.6 153.460928 
L 585.4 155.994141 
L 587.2 153.484799 
L 589 154.886629 
L 590.8 154.947569 
L 592.6 155.717565 
L 594.4 154.982915 
L 596.2 155.821394 
L 598 157.219796 
L 599.9 157.432738 
L 601.6 158.823143 
L 603.4 157.887122 
L 605.2 158.9067 
L 607 161.161873 
L 608.8 159.566663 
L 609.9 159.889963 
L 610.6 159.9697 
L 612.4 160.778922 
L 614.2 161.061262 
L 614.9 161.380633 
L 616 162.2345 
L 617.4 162.573024 
L 618.2 190.058672 
L 619.3 192.456218 
L 619.6 190.291913 
L 620.5 184.872809 
L 621.5 183.115518 
L 622.5 184.333634 
L 623.2 187.057225 
L 623.6 187.60183 
L 625 185.337893 
L 625.3 184.31534 
L 626.8 182.481397 
L 627.8 185.721499 
L 628.6 189.11358 
L 630.3 192.498763 
L 630.4 192.264891 
L 632.2 190.731715 
L 632.3 190.49368 
L 634 188.899491 
L 635 189.896057 
L 635.8 190.114887 
L 637.3 187.417775 
L 637.6 188.147483 
L 639.3 193.371206 
L 639.4 193.186131 
L 641 189.51773 
L 641.2 189.671885 
L 643 191.631643 
L 643.5 192.378469 
L 644.8 192.708216 
L 646 193.472296 
L 646.6 193.594336 
L 649 191.287059 
L 650.2 191.098641 
L 652 193.830102 
L 653.8 194.144326 
L 654.9 194.966884 
L 657.4 193.320139 
L 659.9 192.715247 
L 661 193.794698 
L 662.8 194.559669 
L 664.6 198.188086 
L 664.9 198.452057 
L 667.8 201.78043 
L 668.2 201.87095 
L 670 203.257972 
L 671.8 203.748234 
L 673.6 205.354352 
L 675.4 205.626113 
L 675.7 206.078453 
L 677.2 207.993999 
L 679.6 210.16385 
L 680.8 211.908342 
L 683.5 215.068872 
L 684.4 213.988402 
L 686 211.140425 
L 686.2 211.294427 
L 688 213.425118 
L 690 217.644873 
L 691.6 218.670398 
L 692.8 219.912436 
L 693.4 219.462026 
L 695.2 217.139576 
L 696.4 216.05018 
L 697 219.162625 
L 698.5 226.117585 
L 698.8 224.680005 
L 700.3 218.959205 
L 700.6 219.799045 
L 704.2 227.181786 
L 706 230.120515 
L 707.8 231.643733 
L 709.6 230.548616 
L 710.7 229.655145 
L 711.4 230.993469 
L 712.8 234.081983 
L 713.2 233.897749 
L 714.9 232.647702 
L 715 232.768109 
L 717.1 234.934081 
L 718.6 235.721379 
L 720.4 237.657684 
L 722.2 237.206407 
L 722.8 237.526179 
L 724 236.333211 
L 725.6 234.020741 
L 728.2 239.199648 
L 730 235.979548 
L 731.6 233.872223 
L 733.4 239.66135 
L 735.3 234.544055 
L 736.6 235.191872 
L 737 235.663579 
L 737 235.663579 
" clip-path="url(#p9d8dd393e2)" style="fill: none; stroke: #4f83e3; stroke-width: 1.5; stroke-linecap: square"/>
   </g>
   <g id="line2d_169">
    <path d="M 51 189.100233 
L 52.6 185.17558 
L 53.8 183.375083 
L 54.4 182.08247 
L 56.2 174.128038 
L 56.7 173.921168 
L 58 175.08462 
L 58.8 173.092935 
L 59.8 172.302463 
L 61 173.30573 
L 61.6 174.559311 
L 62.4 175.38075 
L 63.4 172.788501 
L 64.5 170.358263 
L 65.2 169.738185 
L 67 169.445387 
L 67.4 169.252106 
L 68.8 169.189416 
L 70.6 167.302419 
L 72.4 166.216657 
L 73.8 167.699242 
L 74.2 168.55141 
L 75.2 169.085479 
L 76 167.201046 
L 77.8 164.18274 
L 78.8 164.45565 
L 79.7 162.402942 
L 81.9 159.578729 
L 83.2 156.573852 
L 85 155.105489 
L 85.9 153.831009 
L 86.8 152.838883 
L 87.8 173.955146 
L 88.5 195.616531 
L 90.5 176.310983 
L 92.2 170.543965 
L 94 165.567608 
L 95 161.723112 
L 96.2 159.884118 
L 97.6 162.207685 
L 97.9 163.033403 
L 101.3 155.392867 
L 102.7 153.243437 
L 103 154.179987 
L 104.2 159.41573 
L 105.3 155.419671 
L 106.6 153.17498 
L 108.6 147.170778 
L 110.3 145.101192 
L 112.3 150.39716 
L 113.8 149.697055 
L 114.8 149.864566 
L 115.6 149.435817 
L 117.4 144.589538 
L 117.7 144.383097 
L 119.2 141.476653 
L 121.1 136.734476 
L 122.8 131.506139 
L 124.6 129.142631 
L 125.6 126.819301 
L 126.4 126.650756 
L 127.9 124.666771 
L 128.2 124.55693 
L 130 127.967124 
L 130.2 127.987613 
L 131.8 128.568918 
L 132.5 128.99552 
L 134.8 129.772316 
L 135.4 129.845685 
L 137.2 130.89463 
L 139 127.679885 
L 139.3 127.990806 
L 140.8 126.610629 
L 142.6 122.470391 
L 143.3 119.717101 
L 144.4 119.078738 
L 145 120.524637 
L 146.2 126.390349 
L 147.3 129.778305 
L 148 127.866161 
L 149.8 124.8651 
L 150.7 122.005476 
L 151.6 119.942691 
L 153 118.265892 
L 155.2 117.759248 
L 155.3 117.630148 
L 157 116.63485 
L 157.5 117.240105 
L 158.8 117.500925 
L 159.8 116.249276 
L 161 125.033363 
L 162.5 150.523358 
L 163.5 139.847144 
L 164.5 120.695403 
L 166 118.212533 
L 166.7 116.078975 
L 167.8 114.653742 
L 169.6 111.95887 
L 170.7 111.480357 
L 171.4 110.978861 
L 175 107.846847 
L 176.8 101.547606 
L 178.6 102.259758 
L 182.2 97.487367 
L 182.4 97.16566 
L 184 95.371489 
L 185.8 97.165037 
L 186.3 96.068984 
L 187.6 93.885914 
L 189.2 95.83651 
L 189.4 96.326488 
L 190.5 98.219278 
L 191.2 104.978908 
L 191.7 108.595063 
L 193 112.080397 
L 194.5 111.377548 
L 195.3 99.301412 
L 196.6 91.262273 
L 198 90.378659 
L 198.4 90.762865 
L 200.2 92.15225 
L 202 92.628267 
L 203.8 87.983186 
L 207.4 90.795023 
L 209.2 91.674935 
L 212.8 88.265555 
L 214.6 89.20812 
L 214.9 89.093808 
L 216.4 88.662869 
L 218.2 88.297699 
L 220 87.520197 
L 221.3 88.390801 
L 221.8 89.035545 
L 223.7 89.942731 
L 225.3 99.115143 
L 226.4 124.802617 
L 227.2 153.983974 
L 227.8 166.308683 
L 229.7 138.830846 
L 231.1 151.855114 
L 231.8 159.745006 
L 232.6 161.394406 
L 233.3 161.395803 
L 234.7 165.121502 
L 236.1 167.555639 
L 236.2 167.372363 
L 237.5 168.476618 
L 238 167.267998 
L 239 162.465213 
L 239.8 159.179176 
L 240.4 157.667447 
L 241.6 160.729704 
L 241.8 160.756961 
L 243.2 161.747758 
L 243.4 160.421681 
L 244.7 153.120971 
L 246.1 147.354582 
L 247 148.177112 
L 247.5 149.886654 
L 248.9 150.871651 
L 250.6 158.5977 
L 251.8 159.571057 
L 252.4 158.814878 
L 254.2 160.894923 
L 254.6 161.655035 
L 256 160.715427 
L 257.8 162.603585 
L 259.6 166.807148 
L 260.3 168.138333 
L 261.4 169.599242 
L 262.4 171.341392 
L 263.2 172.430351 
L 264.5 174.512829 
L 265 175.047115 
L 266 174.798615 
L 266.8 169.369338 
L 267.4 166.085218 
L 268.6 168.002692 
L 268.8 168.024186 
L 269.1 164.156426 
L 270.4 162.009926 
L 272 161.593667 
L 272.2 161.336215 
L 274 155.162701 
L 274.8 154.101211 
L 275.8 151.060062 
L 276.2 150.258959 
L 277.7 153.662692 
L 279.1 147.369033 
L 279.4 147.863249 
L 280.5 151.549868 
L 281.2 149.595898 
L 281.9 147.078365 
L 283 148.590813 
L 283.4 149.358796 
L 284.8 146.286735 
L 285.5 144.148539 
L 286.6 144.507564 
L 287.6 145.310986 
L 288.4 144.147662 
L 289.8 140.866971 
L 290.2 140.832661 
L 291.9 141.301165 
L 292 141.057296 
L 294 136.954598 
L 295.6 135.687075 
L 296.2 134.857633 
L 297.4 132.687062 
L 298.3 131.793636 
L 300.5 129.037292 
L 302 126.518371 
L 302.8 125.647389 
L 304.6 122.707124 
L 306.4 119.067443 
L 307.1 119.255567 
L 308.2 119.198975 
L 310 117.222139 
L 311.8 115.584129 
L 312.8 113.76363 
L 313.6 112.893437 
L 315.6 109.960458 
L 317.2 109.755641 
L 318 110.324391 
L 319 110.306586 
L 320.8 107.642238 
L 324.4 105.352802 
L 326.2 102.144275 
L 328 101.67533 
L 328.6 101.270315 
L 333.4 98.83134 
L 335.2 97.768491 
L 337 97.020331 
L 338.8 95.235623 
L 340.6 95.504472 
L 342.4 94.506571 
L 344.2 94.819803 
L 346 94.16459 
L 347.8 94.61798 
L 349.6 94.486931 
L 351.4 93.904972 
L 353.2 93.687683 
L 355 93.318135 
L 356.8 92.739021 
L 358.7 92.679287 
L 360.4 92.410678 
L 362.2 92.928023 
L 364 92.615412 
L 365.8 92.923896 
L 367.6 91.707941 
L 369.4 93.388964 
L 370.2 93.001795 
L 371.2 93.042454 
L 373 93.827195 
L 375 95.714276 
L 376.6 96.497272 
L 378 98.321481 
L 378.4 99.060461 
L 380.2 100.451002 
L 382 102.736627 
L 383.8 105.885037 
L 384.8 108.923561 
L 385.6 112.360094 
L 386.2 113.56729 
L 389.2 115.993701 
L 391 120.412756 
L 392.8 121.600432 
L 394.6 128.47948 
L 396.4 127.133784 
L 398.2 131.906082 
L 400 134.352351 
L 401.8 134.734991 
L 402.4 136.360104 
L 403.6 142.848332 
L 405.4 151.119683 
L 406.2 153.914155 
L 407.2 155.16109 
L 409 157.67322 
L 410.8 160.658916 
L 411.2 160.928731 
L 412.6 160.865085 
L 413.7 161.521801 
L 414.4 163.548155 
L 416.2 167.797946 
L 417.5 171.705328 
L 418 172.198167 
L 419.8 171.174339 
L 420 171.501425 
L 421.6 172.550116 
L 422.4 171.458348 
L 423.4 172.073638 
L 424.9 173.708286 
L 425.2 173.036216 
L 426.9 171.541239 
L 428.8 176.983547 
L 430.6 177.042014 
L 431.2 176.763083 
L 432.4 176.78122 
L 433.7 179.133102 
L 434.2 180.537672 
L 436 182.754949 
L 436.2 183.198974 
L 438.7 179.879305 
L 440 192.265635 
L 441.4 195.719338 
L 442.8 195.160916 
L 443.2 194.496604 
L 444.3 189.934373 
L 445 188.897802 
L 446.4 188.274532 
L 446.8 187.829788 
L 448.6 184.271641 
L 450.7 176.794789 
L 452.1 176.629863 
L 452.2 176.806178 
L 454.2 181.802776 
L 455.8 180.081068 
L 456.4 178.422751 
L 457.6 175.869754 
L 457.8 175.818687 
L 459.2 173.961216 
L 459.4 174.296816 
L 460.7 174.335147 
L 462.1 169.394428 
L 463 171.169918 
L 463.5 173.392929 
L 464.8 173.817995 
L 465.6 173.137623 
L 466.6 175.268111 
L 467.1 175.943356 
L 468.4 174.752327 
L 469.2 174.875442 
L 470.6 180.334758 
L 472 178.487067 
L 473.8 184.535339 
L 474.9 191.024527 
L 475.6 187.354011 
L 476.3 181.676114 
L 477.4 180.532276 
L 479.2 185.436864 
L 479.9 184.402511 
L 481 184.35567 
L 481.3 185.517032 
L 482.8 189.553064 
L 484.6 185.177338 
L 484.9 185.426165 
L 486 185.538529 
L 486.4 186.332843 
L 488.2 184.715509 
L 488.5 185.342229 
L 490 188.210112 
L 491.8 185.325572 
L 492 185.792652 
L 493.6 190.367393 
L 495 189.018438 
L 495.4 187.470356 
L 497.2 187.48874 
L 497.5 186.277047 
L 499 182.265067 
L 500.8 184.005549 
L 502.6 180.58204 
L 504.4 182.332032 
L 504.9 181.14438 
L 506.2 176.958865 
L 507.4 177.047511 
L 508 177.715834 
L 509.9 174.632176 
L 511.6 174.125848 
L 513.4 170.65014 
L 513.7 170.525459 
L 515.2 170.429082 
L 517.4 168.533296 
L 518.8 166.545963 
L 520.6 166.145183 
L 522.4 163.842943 
L 524.2 161.1815 
L 524.9 160.912577 
L 526 161.011037 
L 527.8 159.49104 
L 529.6 157.708327 
L 531.4 157.536657 
L 533.2 157.208131 
L 535 156.531422 
L 536.8 155.349339 
L 538.6 154.377099 
L 540.4 153.726892 
L 542.2 152.399945 
L 544 152.314336 
L 544.8 151.631956 
L 545.8 150.949185 
L 549.4 149.960479 
L 549.8 149.611417 
L 551.2 148.641699 
L 553 148.562464 
L 554.8 149.617147 
L 556.6 148.613185 
L 558.4 147.95443 
L 560.2 148.10489 
L 562 147.611027 
L 563.8 148.06714 
L 565 147.689365 
L 565.6 147.680477 
L 567.4 148.785611 
L 569.2 148.213378 
L 571 150.398552 
L 572.8 149.652225 
L 574.6 149.371255 
L 575 149.632242 
L 576.4 150.685695 
L 578.2 151.137402 
L 580 151.991439 
L 581.8 151.874074 
L 583.6 153.460928 
L 585.4 155.994141 
L 587.2 153.484799 
L 589 154.886629 
L 590.8 154.947569 
L 592.6 155.717565 
L 594.4 154.982915 
L 596.2 155.821394 
L 598 157.219796 
L 599.9 157.432738 
L 601.6 158.823143 
L 603.4 157.887122 
L 605.2 158.9067 
L 607 161.161873 
L 608.8 159.566663 
L 609.9 159.889963 
L 610.6 159.9697 
L 612.4 160.778922 
L 614.2 161.061262 
L 614.9 161.380633 
L 616 162.2345 
L 617.4 162.573024 
L 618.2 188.858672 
L 619.3 191.256218 
L 619.6 189.091913 
L 620.5 183.672809 
L 621.5 181.915518 
L 622.5 183.133634 
L 623.2 185.857225 
L 623.6 186.40183 
L 625 184.137893 
L 625.3 183.11534 
L 626.8 181.281397 
L 627.8 184.521499 
L 628.6 187.91358 
L 630.3 191.298763 
L 630.4 191.064891 
L 632.2 189.531715 
L 632.3 189.29368 
L 634 187.699491 
L 635 188.696057 
L 635.8 188.914887 
L 637.3 186.217775 
L 637.6 186.947483 
L 639.3 192.171206 
L 639.4 191.986131 
L 641 188.31773 
L 641.2 188.471885 
L 643 190.431643 
L 643.5 191.178469 
L 644.8 192.132216 
L 646 193.472296 
L 646.6 193.594336 
L 649 191.287059 
L 650.2 191.098641 
L 652 193.830102 
L 653.8 194.144326 
L 654.9 194.966884 
L 657.4 193.320139 
L 659.9 192.715247 
L 661 193.794698 
L 662.8 194.559669 
L 664.6 198.188086 
L 664.9 198.452057 
L 667.8 201.78043 
L 668.2 201.88715 
L 670 203.347072 
L 671.8 203.910234 
L 673.6 205.678352 
L 675.4 206.112113 
L 675.7 206.591453 
L 677.2 208.641999 
L 679.6 211.02785 
L 680.8 212.880342 
L 683.5 216.283872 
L 684.4 215.284402 
L 686 212.580425 
L 686.2 212.752427 
L 688 215.045118 
L 690 219.444873 
L 691.6 220.470398 
L 692.8 221.712436 
L 693.4 221.262026 
L 695.2 218.939576 
L 696.4 217.85018 
L 697 220.962625 
L 698.5 227.917585 
L 698.8 226.480005 
L 700.3 220.759205 
L 700.6 221.599045 
L 704.2 228.981786 
L 706 231.920515 
L 707.8 233.443733 
L 709.6 232.348616 
L 710.7 231.455145 
L 711.4 232.793469 
L 712.8 235.881983 
L 713.2 235.697749 
L 714.9 234.447702 
L 715 234.568109 
L 717.1 236.734081 
L 718.6 237.521379 
L 720.4 239.457684 
L 722.2 239.006407 
L 722.8 239.326179 
L 724 238.133211 
L 725.6 235.820741 
L 728.2 240.999648 
L 730 237.779548 
L 731.6 235.672223 
L 733.4 241.46135 
L 735.3 236.344055 
L 736.6 236.991872 
L 737 237.463579 
L 737 237.463579 
" clip-path="url(#p9d8dd393e2)" style="fill: none; stroke: #4e4ea6; stroke-width: 1.5; stroke-linecap: square"/>
   </g>
   <g id="legend_1">
    <g id="patch_7">
     <path d="M 398.87 82.833 
L 728.318 82.833 
Q 730.538 82.833 730.538 80.613 
L 730.538 22.782 
Q 730.538 20.562 728.318 20.562 
L 398.87 20.562 
Q 396.65 20.562 396.65 22.782 
L 396.65 80.613 
Q 396.65 82.833 398.87 82.833 
z
" style="fill: #ffffff; opacity: 0.8; stroke: #cccccc; stroke-linejoin: miter"/>
    </g>
    <g id="line2d_170">
     <path d="M 402.422 32.55 
L 413.522 32.55 
L 424.622 32.55 
" style="fill: none; stroke: #6cb6f2; stroke-width: 1.5; stroke-linecap: square"/>
    </g>
    <g id="text_16">
     <!-- pRT, cloudless, dyn. mass prior $\chi^2_r = 1.51$ -->
     <g transform="translate(433.502 36.435)">
      <text><tspan x="0 6.697815 13.39563 20.093445 26.79126 33.489075 40.18689 46.884705 53.58252 60.280334 66.978149 73.675964 80.373779 87.071594 93.769409 100.467224 107.165039 113.862854 120.560669 127.258484 133.956299 140.654114 147.351929 154.049744 160.747559 167.445374 174.143188 180.841003 187.538818 194.236633 200.934448 207.632263" y="-0.06875" style="font-size: 11.1px; font-family: 'DejaVu Sans Mono'; white-space: pre">pRT, cloudless, dyn. mass prior </tspan><tspan x="214.330078" y="-0.06875" style="font-style: oblique; font-size: 11.1px; font-family: 'DejaVu Sans'; white-space: pre">χ</tspan><tspan x="220.913818" y="2.939062" style="font-style: oblique; font-size: 7.77px; font-family: 'DejaVu Sans'; white-space: pre">r</tspan><tspan x="221.405094" y="-4.279688" style="font-size: 7.77px; font-family: 'DejaVu Sans'; white-space: pre">2</tspan><tspan x="228.82794 240.316892 247.394956 250.931272 258.009336" y="-0.06875" style="font-size: 11.1px; font-family: 'DejaVu Sans'; white-space: pre">=1.51</tspan></text>
     </g>
    </g>
    <g id="line2d_171">
     <path d="M 402.422 51.309 
L 413.522 51.309 
L 424.622 51.309 
" style="fill: none; stroke: #4f83e3; stroke-width: 1.5; stroke-linecap: square"/>
    </g>
    <g id="text_17">
     <!-- pRT, grey cloud, dyn. mass prior $\chi^2_r = 1.50$ -->
     <g transform="translate(433.502 55.194)">
      <text><tspan x="0 6.697815 13.39563 20.093445 26.79126 33.489075 40.18689 46.884705 53.58252 60.280334 66.978149 73.675964 80.373779 87.071594 93.769409 100.467224 107.165039 113.862854 120.560669 127.258484 133.956299 140.654114 147.351929 154.049744 160.747559 167.445374 174.143188 180.841003 187.538818 194.236633 200.934448 207.632263 214.330078" y="-0.06875" style="font-size: 11.1px; font-family: 'DejaVu Sans Mono'; white-space: pre">pRT, grey cloud, dyn. mass prior </tspan><tspan x="221.027893" y="-0.06875" style="font-style: oblique; font-size: 11.1px; font-family: 'DejaVu Sans'; white-space: pre">χ</tspan><tspan x="227.611633" y="2.939062" style="font-style: oblique; font-size: 7.77px; font-family: 'DejaVu Sans'; white-space: pre">r</tspan><tspan x="228.102909" y="-4.279688" style="font-size: 7.77px; font-family: 'DejaVu Sans'; white-space: pre">2</tspan><tspan x="235.525755 247.014707 254.092771 257.629087 264.707151" y="-0.06875" style="font-size: 11.1px; font-family: 'DejaVu Sans'; white-space: pre">=1.50</tspan></text>
     </g>
    </g>
    <g id="line2d_172">
     <path d="M 402.422 70.068 
L 413.522 70.068 
L 424.622 70.068 
" style="fill: none; stroke: #4e4ea6; stroke-width: 1.5; stroke-linecap: square"/>
    </g>
    <g id="text_18">
     <!-- pRT, EddySed cloud, dyn. mass prior $\chi^2_r = 1.45$ -->
     <g transform="translate(433.502 73.953)">
      <text><tspan x="0 6.697815 13.39563 20.093445 26.79126 33.489075 40.18689 46.884705 53.58252 60.280334 66.978149 73.675964 80.373779 87.071594 93.769409 100.467224 107.165039 113.862854 120.560669 127.258484 133.956299 140.654114 147.351929 154.049744 160.747559 167.445374 174.143188 180.841003 187.538818 194.236633 200.934448 207.632263 214.330078 221.027893 227.725708 234.423523" y="-0.06875" style="font-size: 11.1px; font-family: 'DejaVu Sans Mono'; white-space: pre">pRT, EddySed cloud, dyn. mass prior </tspan><tspan x="241.121338" y="-0.06875" style="font-style: oblique; font-size: 11.1px; font-family: 'DejaVu Sans'; white-space: pre">χ</tspan><tspan x="247.705078" y="2.939062" style="font-style: oblique; font-size: 7.77px; font-family: 'DejaVu Sans'; white-space: pre">r</tspan><tspan x="248.196354" y="-4.279688" style="font-size: 7.77px; font-family: 'DejaVu Sans'; white-space: pre">2</tspan><tspan x="255.6192 267.108152 274.186216 277.722532 284.800596" y="-0.06875" style="font-size: 11.1px; font-family: 'DejaVu Sans'; white-space: pre">=1.45</tspan></text>
     </g>
    </g>
   </g>
   <g id="line2d_173">
    <path d="M 322.9 100.6 
L 338 100.6 
" clip-path="url(#p9d8dd393e2)" style="fill: none; stroke: #000000; stroke-width: 1.5; stroke-linecap: square"/>
   </g>
   <g id="line2d_174">
    <path d="M 333.1 96.1 
L 333.1 103.6 
" clip-path="url(#p9d8dd393e2)" style="fill: none; stroke: #000000; stroke-width: 1.5; stroke-linecap: square"/>
   </g>
   <g id="line2d_175">
    <defs>
     <path id="mb447682543" d="M 0 1.9 
C 0.503886 1.9 0.987202 1.699804 1.343503 1.343503 
C 1.699804 0.987202 1.9 0.503886 1.9 0 
C 1.9 -0.503886 1.699804 -0.987202 1.343503 -1.343503 
C 0.987202 -1.699804 0.503886 -1.9 0 -1.9 
C -0.503886 -1.9 -0.987202 -1.699804 -1.343503 -1.343503 
C -1.699804 -0.987202 -1.9 -0.503886 -1.9 0 
C -1.9 0.503886 -1.699804 0.987202 -1.343503 1.343503 
C -0.987202 1.699804 -0.503886 1.9 0 1.9 
z
" style="stroke: #000000"/>
    </defs>
    <g clip-path="url(#p9d8dd393e2)">
     <use href="#mb447682543" x="333.1" y="100.6" style="stroke: #000000"/>
    </g>
   </g>
   <g id="line2d_176">
    <path d="M 363.6 94.2 
L 363.6 101.8 
" clip-path="url(#p9d8dd393e2)" style="fill: none; stroke: #000000; stroke-width: 1.5; stroke-linecap: square"/>
   </g>
   <g id="line2d_177">
    <defs>
     <path id="ma99d5c2269" d="M 0 1.8 
C 0.477366 1.8 0.935244 1.610341 1.272792 1.272792 
C 1.610341 0.935244 1.8 0.477366 1.8 0 
C 1.8 -0.477366 1.610341 -0.935244 1.272792 -1.272792 
C 0.935244 -1.610341 0.477366 -1.8 0 -1.8 
C -0.477366 -1.8 -0.935244 -1.610341 -1.272792 -1.272792 
C -1.610341 -0.935244 -1.8 -0.477366 -1.8 0 
C -1.8 0.477366 -1.610341 0.935244 -1.272792 1.272792 
C -0.935244 1.610341 -0.477366 1.8 0 1.8 
z
" style="stroke: #000000"/>
    </defs>
    <g clip-path="url(#p9d8dd393e2)">
     <use href="#ma99d5c2269" x="363.6" y="97" style="stroke: #000000"/>
    </g>
   </g>
  </g>
  <g id="text_19">
   <!-- F$_\lambda$ -->
   <g transform="translate(17 180.75) rotate(-90)">
    <text><tspan x="0" y="-0.0625" style="font-size: 14.5px; font-family: 'DejaVu Sans Mono'; white-space: pre">F</tspan><tspan x="8.873291" y="2.398438" style="font-style: oblique; font-size: 10.15px; font-family: 'DejaVu Sans'; white-space: pre">λ</tspan></text>
   </g>
  </g>
  <g id="text_20">
   <!-- [W/m$^2$/$\mathrm{\mu m}$] -->
   <g transform="translate(17 160.4) rotate(-90)">
    <text><tspan x="0 8.729736 17.459473 26.189209" y="-0.459375" style="font-size: 14.5px; font-family: 'DejaVu Sans Mono'; white-space: pre">[W/m</tspan><tspan x="35.0625" y="-6.201563" style="font-size: 10.15px; font-family: 'DejaVu Sans'; white-space: pre">2</tspan><tspan x="41.930396" y="-0.459375" style="font-size: 14.5px; font-family: 'DejaVu Sans Mono'; white-space: pre">/</tspan><tspan x="50.660132 59.885474" y="-0.459375" style="font-size: 14.5px; font-family: 'DejaVu Sans'; white-space: pre">μm</tspan><tspan x="74.010229" y="-0.459375" style="font-size: 14.5px; font-family: 'DejaVu Sans Mono'; white-space: pre">]</tspan></text>
   </g>
  </g>
  <g id="text_21">
   <text style="font-size: 13.2px; font-family: 'DejaVu Sans Mono'; text-anchor: start" x="51.2" y="13.5" transform="rotate(-0 51.2 13.5)">1e−15</text>
  </g>
 </g>
 <defs>
  <clipPath id="p9d8dd393e2">
   <rect x="51.2" y="15.9" width="684" height="228.5"/>
  </clipPath>
 </defs>
</svg>

</body></html>
